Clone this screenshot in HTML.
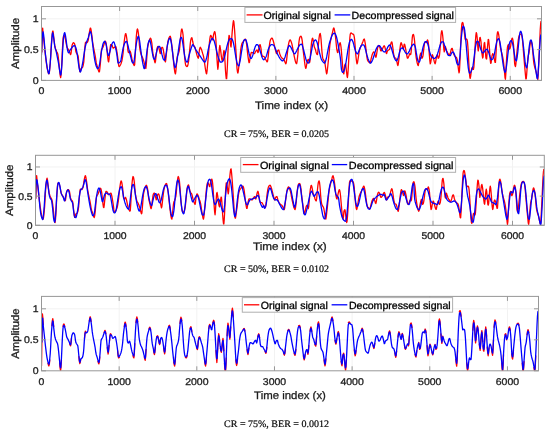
<!DOCTYPE html>
<html><head><meta charset="utf-8"><title>Signal compression results</title>
<style>html,body{margin:0;padding:0;background:#fff;}body{width:550px;height:432px;overflow:hidden;}svg{display:block;}</style>
</head><body>
<svg width="550" height="432" viewBox="0 0 550 432">
<style>text{paint-order:fill;text-rendering:geometricPrecision}</style>
<rect width="550" height="432" fill="#fff"/>
<defs><clipPath id="c0"><rect x="41.5" y="6.5" width="500" height="73.9"/></clipPath></defs>
<path d="M119.62 6.5V80.4M197.75 6.5V80.4M275.88 6.5V80.4M354 6.5V80.4M432.12 6.5V80.4M510.25 6.5V80.4M41.5 49.61H541.5M41.5 18.82H541.5" stroke="#f2f2f2" stroke-width="1" fill="none"/>
<g clip-path="url(#c0)" fill="none" stroke-width="1.3" stroke-linejoin="round" stroke-linecap="round">
<path d="M41.85 51.87 L42.25 29.82 L42.65 28.14 L43.05 32.84 L43.45 37.22 L43.85 40.63 L44.25 44.17 L44.65 47.99 L45.05 51.84 L45.45 55.43 L45.85 58.66 L46.25 61.83 L46.65 64.8 L47.05 67.38 L47.45 69.39 L47.85 71.1 L48.25 72.65 L48.65 73.69 L49.05 73.8 L49.45 71.72 L49.85 67.97 L50.25 63.65 L50.65 57.48 L51.05 49.65 L51.45 42.84 L51.85 38.12 L52.25 33.81 L52.65 31.09 L53.05 31.23 L53.45 34.24 L53.85 38.09 L54.25 41.46 L54.65 44.87 L55.05 47.04 L55.45 48.48 L55.85 49.62 L56.25 50.62 L56.65 51.53 L57.05 52.22 L57.45 53.03 L57.85 54.41 L58.25 57.13 L58.65 60.42 L59.05 64.35 L59.45 68.46 L59.85 72.19 L60.25 75.85 L60.65 77.62 L61.05 75.26 L61.45 69.74 L61.85 62.48 L62.25 52.79 L62.65 45.25 L63.05 38.97 L63.45 36.47 L63.85 35.43 L64.25 35.49 L64.65 36.44 L65.05 37.78 L65.45 39.39 L65.85 41.52 L66.25 43.63 L66.65 45.88 L67.05 47.38 L67.45 48.05 L67.85 48.6 L68.25 49.34 L68.65 50.18 L69.05 51.06 L69.45 51.93 L69.85 52.97 L70.25 54.02 L70.65 54.61 L71.05 53.39 L71.45 49.81 L71.85 46.31 L72.25 44.79 L72.65 43.77 L73.05 43.02 L73.45 42.68 L73.85 42.82 L74.25 43.33 L74.65 44.11 L75.05 45.51 L75.45 48.66 L75.85 51.5 L76.25 52.62 L76.65 53.33 L77.05 53.99 L77.45 54.51 L77.85 55.19 L78.25 56.98 L78.65 60.99 L79.05 65.16 L79.45 68.67 L79.85 71.64 L80.25 71.8 L80.65 70.2 L81.05 68.63 L81.45 68.16 L81.85 67.95 L82.25 67.71 L82.65 67.18 L83.05 65.91 L83.45 63.95 L83.85 61.31 L84.25 55.63 L84.65 49.63 L85.05 45.56 L85.45 42.53 L85.85 42.16 L86.25 42.37 L86.65 42.6 L87.05 42.64 L87.45 42.19 L87.85 41.34 L88.25 40.08 L88.65 37.5 L89.05 34.46 L89.45 32.08 L89.85 29.9 L90.25 28.26 L90.65 28.18 L91.05 29.95 L91.45 32.55 L91.85 35.34 L92.25 38.89 L92.65 42.25 L93.05 44.81 L93.45 47.06 L93.85 49.16 L94.25 51.22 L94.65 53.1 L95.05 55.03 L95.45 57.27 L95.85 60.16 L96.25 62.9 L96.65 64.59 L97.05 65.72 L97.45 66.83 L97.85 68.28 L98.25 69.84 L98.65 71.19 L99.05 72 L99.45 71.59 L99.85 68.72 L100.25 64.77 L100.65 60.07 L101.05 54 L101.45 50.09 L101.85 49.03 L102.25 48.39 L102.65 47.84 L103.05 47.05 L103.45 45.94 L103.85 44.73 L104.25 43.62 L104.65 42.52 L105.05 41.53 L105.45 41.22 L105.85 42.18 L106.25 44.07 L106.65 46.52 L107.05 50.75 L107.45 54.8 L107.85 58.27 L108.25 61.16 L108.65 61.83 L109.05 59.04 L109.45 54.76 L109.85 51.17 L110.25 47.32 L110.65 44.72 L111.05 44.56 L111.45 44.8 L111.85 45.17 L112.25 45.72 L112.65 46.98 L113.05 48.07 L113.45 48.13 L113.85 47.86 L114.25 47.49 L114.65 47.15 L115.05 46.72 L115.45 46.39 L115.85 46.65 L116.25 48.27 L116.65 50.46 L117.05 52.69 L117.45 55.39 L117.85 58.22 L118.25 61.76 L118.65 65.33 L119.05 66.58 L119.45 66.39 L119.85 65.94 L120.25 65.28 L120.65 64.44 L121.05 63.46 L121.45 62.37 L121.85 61.04 L122.25 58.95 L122.65 56.34 L123.05 53.35 L123.45 49.24 L123.85 44.84 L124.25 41.36 L124.65 38.34 L125.05 35.6 L125.45 33.81 L125.85 33.63 L126.25 35.1 L126.65 37.56 L127.05 40.37 L127.45 45.16 L127.85 50.24 L128.25 52.15 L128.65 52.7 L129.05 52.64 L129.45 51.77 L129.85 51.01 L130.25 51.33 L130.65 52.72 L131.05 54.3 L131.45 56.31 L131.85 58.48 L132.25 60.31 L132.65 61.82 L133.05 63.12 L133.45 64.1 L133.85 64.98 L134.25 65.58 L134.65 64.64 L135.05 58.62 L135.45 50.93 L135.85 44.16 L136.25 37.29 L136.65 33.03 L137.05 30.05 L137.45 28.88 L137.85 29.98 L138.25 32.36 L138.65 35.28 L139.05 40.12 L139.45 45.33 L139.85 48.56 L140.25 50.92 L140.65 52.84 L141.05 54.32 L141.45 55.39 L141.85 56.18 L142.25 56.93 L142.65 57.87 L143.05 58.92 L143.45 60.08 L143.85 61.39 L144.25 63.06 L144.65 64.81 L145.05 66.31 L145.45 67.81 L145.85 68.38 L146.25 64.99 L146.65 59.38 L147.05 54.31 L147.45 49.2 L147.85 46.19 L148.25 44.27 L148.65 42.79 L149.05 41.51 L149.45 40.17 L149.85 38.97 L150.25 38.2 L150.65 38.2 L151.05 39.25 L151.45 41.01 L151.85 43.19 L152.25 47.29 L152.65 51.5 L153.05 53.96 L153.45 55.89 L153.85 57.63 L154.25 59.54 L154.65 61.65 L155.05 62.87 L155.45 61.66 L155.85 58.1 L156.25 54.56 L156.65 51.4 L157.05 48.48 L157.45 47.12 L157.85 46.59 L158.25 46.35 L158.65 46.97 L159.05 48.55 L159.45 50.19 L159.85 52.17 L160.25 53.64 L160.65 52.76 L161.05 50.11 L161.45 48.2 L161.85 47.62 L162.25 47.3 L162.65 47.57 L163.05 48.89 L163.45 50.69 L163.85 53.09 L164.25 56.16 L164.65 58.72 L165.05 61.15 L165.45 61.89 L165.85 59.31 L166.25 55.06 L166.65 51.39 L167.05 47.79 L167.45 44.56 L167.85 42.24 L168.25 40.29 L168.65 38.76 L169.05 37.77 L169.45 36.99 L169.85 36.43 L170.25 36.24 L170.65 37.46 L171.05 39.91 L171.45 42.53 L171.85 45.62 L172.25 49.16 L172.65 52.84 L173.05 56.91 L173.45 60.91 L173.85 64.61 L174.25 68.21 L174.65 71.01 L175.05 73 L175.45 73.93 L175.85 71.37 L176.25 66.79 L176.65 62.52 L177.05 58.11 L177.45 55.91 L177.85 54.96 L178.25 54.14 L178.65 52.95 L179.05 51.5 L179.45 49.57 L179.85 46.08 L180.25 40.77 L180.65 36.2 L181.05 32.66 L181.45 29.76 L181.85 28.91 L182.25 29.97 L182.65 32.04 L183.05 34.89 L183.45 40.15 L183.85 45.93 L184.25 51.93 L184.65 57.36 L185.05 61.03 L185.45 64.05 L185.85 65.65 L186.25 66.11 L186.65 66.42 L187.05 66.57 L187.45 66.28 L187.85 65.01 L188.25 63.13 L188.65 60.79 L189.05 56.83 L189.45 52.34 L189.85 48.25 L190.25 43.93 L190.65 40.61 L191.05 39.09 L191.45 38.07 L191.85 37.71 L192.25 39.03 L192.65 41.26 L193.05 43.06 L193.45 44.74 L193.85 45.74 L194.25 46.26 L194.65 46.7 L195.05 47.41 L195.45 48.87 L195.85 50.76 L196.25 52.41 L196.65 53.96 L197.05 55.4 L197.45 56.56 L197.85 57.61 L198.25 58.27 L198.65 56.8 L199.05 52.72 L199.45 50 L199.85 48.03 L200.25 47.27 L200.65 47.67 L201.05 48.48 L201.45 49.41 L201.85 50.67 L202.25 52.12 L202.65 53.43 L203.05 54.62 L203.45 56 L203.85 58.02 L204.25 60.78 L204.65 63.63 L205.05 66.43 L205.45 69.22 L205.85 71.44 L206.25 73.33 L206.65 73.77 L207.05 70.85 L207.45 66.16 L207.85 61.82 L208.25 57.23 L208.65 52.45 L209.05 47.47 L209.45 42.33 L209.85 38.92 L210.25 36.4 L210.65 35.31 L211.05 35.67 L211.45 36.46 L211.85 37.39 L212.25 38.88 L212.65 39.9 L213.05 38.38 L213.45 35.29 L213.85 33.58 L214.25 32.33 L214.65 31.66 L215.05 32.46 L215.45 35.24 L215.85 39.28 L216.25 46.25 L216.65 52.99 L217.05 59.67 L217.45 65.13 L217.85 69.25 L218.25 66.4 L218.65 59.35 L219.05 53.39 L219.45 47.51 L219.85 45.5 L220.25 47.51 L220.65 50.59 L221.05 53.79 L221.45 57.18 L221.85 59.42 L222.25 60.94 L222.65 60.1 L223.05 56.72 L223.45 53.59 L223.85 50.61 L224.25 50.93 L224.65 56.15 L225.05 62.52 L225.45 69.89 L225.85 74.9 L226.25 78.72 L226.65 78.69 L227.05 72.74 L227.45 64.83 L227.85 54.38 L228.25 45.58 L228.65 38.84 L229.05 35.34 L229.45 36.35 L229.85 38.84 L230.25 41.87 L230.65 45.89 L231.05 47.02 L231.45 42.61 L231.85 36.59 L232.25 31.36 L232.65 26.8 L233.05 23.11 L233.45 20.73 L233.85 21.84 L234.25 26.06 L234.65 30.91 L235.05 37.04 L235.45 43.28 L235.85 49.63 L236.25 56.04 L236.65 63.32 L237.05 68.97 L237.45 71.77 L237.85 73.02 L238.25 71.47 L238.65 68.2 L239.05 65 L239.45 61.97 L239.85 58.66 L240.25 54.63 L240.65 50.46 L241.05 47.64 L241.45 45.42 L241.85 43.83 L242.25 42.94 L242.65 42.32 L243.05 41.76 L243.45 41.15 L243.85 40.57 L244.25 40.04 L244.65 39.54 L245.05 39.09 L245.45 39.1 L245.85 40.14 L246.25 41.89 L246.65 44.29 L247.05 48.17 L247.45 51.86 L247.85 55.24 L248.25 58.16 L248.65 60.76 L249.05 62.69 L249.45 62.3 L249.85 59.65 L250.25 56.83 L250.65 54.9 L251.05 53.16 L251.45 52.42 L251.85 52.46 L252.25 52.55 L252.65 52.68 L253.05 52.84 L253.45 53.18 L253.85 53.54 L254.25 53.71 L254.65 53.36 L255.05 52.59 L255.45 51.75 L255.85 51.16 L256.25 50.63 L256.65 50.2 L257.05 50.03 L257.45 51.2 L257.85 52.68 L258.25 52.08 L258.65 49.68 L259.05 47.38 L259.45 45.81 L259.85 44.64 L260.25 44.86 L260.65 46.57 L261.05 48.95 L261.45 53.05 L261.85 55.08 L262.25 55.96 L262.65 56.42 L263.05 56.47 L263.45 56.47 L263.85 56.47 L264.25 56.73 L264.65 57.51 L265.05 58.32 L265.45 59.03 L265.85 59.75 L266.25 60.45 L266.65 61.17 L267.05 61.85 L267.45 61.68 L267.85 59.29 L268.25 56.14 L268.65 52.12 L269.05 47.98 L269.45 45.02 L269.85 42.39 L270.25 40.46 L270.65 39.5 L271.05 38.81 L271.45 38.31 L271.85 38.08 L272.25 38.32 L272.65 39.15 L273.05 40.29 L273.45 41.52 L273.85 43.18 L274.25 44.98 L274.65 46.7 L275.05 48.49 L275.45 50.17 L275.85 51.66 L276.25 53.14 L276.65 53.68 L277.05 52.51 L277.45 51.08 L277.85 50.54 L278.25 50.17 L278.65 50.03 L279.05 50.88 L279.45 52.56 L279.85 53.96 L280.25 55.05 L280.65 56.01 L281.05 56.77 L281.45 57.41 L281.85 57.95 L282.25 58.37 L282.65 58.65 L283.05 58.88 L283.45 59.19 L283.85 59.7 L284.25 60.4 L284.65 61.16 L285.05 62.17 L285.45 63.24 L285.85 63.81 L286.25 62.75 L286.65 59.65 L287.05 55.95 L287.45 52.64 L287.85 49.01 L288.25 45.89 L288.65 43.73 L289.05 41.96 L289.45 40.82 L289.85 40.16 L290.25 39.92 L290.65 40.4 L291.05 41.38 L291.45 42.54 L291.85 43.85 L292.25 45.52 L292.65 47.54 L293.05 50.03 L293.45 52.35 L293.85 54.38 L294.25 56.28 L294.65 58.17 L295.05 60.02 L295.45 61.56 L295.85 62.68 L296.25 63.59 L296.65 63.67 L297.05 61.58 L297.45 58.16 L297.85 54.4 L298.25 49.31 L298.65 44.56 L299.05 41.39 L299.45 38.73 L299.85 37.2 L300.25 36.68 L300.65 36.34 L301.05 36.24 L301.45 37.01 L301.85 38.61 L302.25 40.78 L302.65 44.83 L303.05 49.14 L303.45 52.57 L303.85 55.79 L304.25 59.01 L304.65 62.51 L305.05 65.42 L305.45 67.42 L305.85 68.42 L306.25 66.98 L306.65 64.45 L307.05 62.55 L307.45 60.84 L307.85 59.88 L308.25 59.32 L308.65 59.54 L309.05 61.27 L309.45 62.79 L309.85 61.69 L310.25 57.44 L310.65 52.92 L311.05 47.62 L311.45 43.45 L311.85 40.69 L312.25 38.63 L312.65 38.15 L313.05 39.53 L313.45 41.61 L313.85 44.05 L314.25 46.61 L314.65 47.84 L315.05 48.5 L315.45 49.44 L315.85 51.17 L316.25 52.73 L316.65 53.66 L317.05 54.39 L317.45 54.57 L317.85 51.62 L318.25 46.53 L318.65 42.21 L319.05 38.08 L319.45 35.28 L319.85 33.94 L320.25 33.52 L320.65 35.56 L321.05 39.25 L321.45 44.65 L321.85 50.8 L322.25 54.78 L322.65 57.7 L323.05 58.97 L323.45 59.67 L323.85 60.37 L324.25 61.05 L324.65 61.96 L325.05 63.92 L325.45 66.63 L325.85 69.28 L326.25 72.24 L326.65 73.91 L327.05 72.7 L327.45 69.23 L327.85 65.45 L328.25 61.7 L328.65 57.6 L329.05 53.54 L329.45 49.21 L329.85 45.22 L330.25 42.41 L330.65 40.31 L331.05 38.52 L331.45 36.77 L331.85 35.06 L332.25 33.45 L332.65 31.86 L333.05 30.01 L333.45 28.47 L333.85 27.98 L334.25 29.06 L334.65 31.12 L335.05 33.43 L335.45 36.52 L335.85 40.03 L336.25 44.29 L336.65 48.31 L337.05 50.69 L337.45 52.41 L337.85 52.59 L338.25 50.66 L338.65 48.1 L339.05 46.23 L339.45 44.38 L339.85 43 L340.25 42.8 L340.65 44.53 L341.05 47.25 L341.45 51.38 L341.85 56.68 L342.25 61.57 L342.65 66.67 L343.05 70.72 L343.45 72.9 L343.85 73.94 L344.25 69.64 L344.65 65.47 L345.05 64.36 L345.45 63.84 L345.85 65.35 L346.25 69.35 L346.65 72.8 L347.05 76.27 L347.45 77.54 L347.85 74.23 L348.25 68.48 L348.65 61.58 L349.05 52.98 L349.45 45.3 L349.85 37.72 L350.25 34.2 L350.65 33.32 L351.05 32.93 L351.45 33.07 L351.85 33.5 L352.25 33.92 L352.65 34.11 L353.05 34.2 L353.45 34.34 L353.85 35.03 L354.25 36.81 L354.65 39.69 L355.05 45.13 L355.45 50.3 L355.85 55.39 L356.25 59.17 L356.65 62.26 L357.05 63.82 L357.45 62.85 L357.85 60.47 L358.25 57.97 L358.65 55.2 L359.05 52.37 L359.45 50.36 L359.85 48.92 L360.25 47.74 L360.65 46.73 L361.05 45.9 L361.45 45.11 L361.85 44.23 L362.25 43.24 L362.65 42.22 L363.05 41.25 L363.45 40.14 L363.85 39.25 L364.25 39.05 L364.65 40.23 L365.05 42.34 L365.45 44.73 L365.85 48.11 L366.25 51.69 L366.65 54.81 L367.05 57.89 L367.45 59.99 L367.85 60.84 L368.25 61.41 L368.65 61.83 L369.05 62.21 L369.45 62.59 L369.85 62.85 L370.25 62.77 L370.65 61.26 L371.05 59.12 L371.45 57.46 L371.85 55.85 L372.25 54.44 L372.65 53.48 L373.05 52.7 L373.45 52.1 L373.85 51.87 L374.25 52.45 L374.65 53.67 L375.05 54.9 L375.45 56.41 L375.85 57.37 L376.25 56.32 L376.65 53.82 L377.05 51.39 L377.45 48.7 L377.85 46.99 L378.25 45.94 L378.65 45.43 L379.05 45.71 L379.45 46.47 L379.85 47.38 L380.25 48.91 L380.65 50.51 L381.05 50.93 L381.45 50.69 L381.85 50.26 L382.25 49.65 L382.65 48.56 L383.05 47.48 L383.45 46.74 L383.85 46.1 L384.25 45.8 L384.65 46.38 L385.05 47.8 L385.45 49.32 L385.85 51.34 L386.25 53.23 L386.65 53.56 L387.05 52.17 L387.45 50.94 L387.85 50.53 L388.25 50.25 L388.65 49.96 L389.05 49.7 L389.45 49.38 L389.85 48.62 L390.25 46.36 L390.65 44.37 L391.05 43.02 L391.45 42 L391.85 41.88 L392.25 43.69 L392.65 46.3 L393.05 49.45 L393.45 52.83 L393.85 55.05 L394.25 56.76 L394.65 57.53 L395.05 57.8 L395.45 57.99 L395.85 58.34 L396.25 59.33 L396.65 60.85 L397.05 62.42 L397.45 64.44 L397.85 65.66 L398.25 64.4 L398.65 61.27 L399.05 57.83 L399.45 53.73 L399.85 49.69 L400.25 46.59 L400.65 43.84 L401.05 42.67 L401.45 43.24 L401.85 44.45 L402.25 45.71 L402.65 47.37 L403.05 48.82 L403.45 48.78 L403.85 46.44 L404.25 44.2 L404.65 44.31 L405.05 45.88 L405.45 47.89 L405.85 50.01 L406.25 52.51 L406.65 54.71 L407.05 56.78 L407.45 58.21 L407.85 58.11 L408.25 57.4 L408.65 56.53 L409.05 55.43 L409.45 54.2 L409.85 53.71 L410.25 54.15 L410.65 54.61 L411.05 52.86 L411.45 47.94 L411.85 43.18 L412.25 37.89 L412.65 35.19 L413.05 34.55 L413.45 34.48 L413.85 35.91 L414.25 38.45 L414.65 41.7 L415.05 46.9 L415.45 51.53 L415.85 54.99 L416.25 57.87 L416.65 60.25 L417.05 62.3 L417.45 63.87 L417.85 65.16 L418.25 65.6 L418.65 63.52 L419.05 60.52 L419.45 58.29 L419.85 56.19 L420.25 54.57 L420.65 53.28 L421.05 52.88 L421.45 55.61 L421.85 58.24 L422.25 57.99 L422.65 57.04 L423.05 55.38 L423.45 51.92 L423.85 48.5 L424.25 45.13 L424.65 42.79 L425.05 42.15 L425.45 41.79 L425.85 41.88 L426.25 42.42 L426.65 42.61 L427.05 41.21 L427.45 39.93 L427.85 40.6 L428.25 42.54 L428.65 45.49 L429.05 50.69 L429.45 55.66 L429.85 60.77 L430.25 63.79 L430.65 62.83 L431.05 60.37 L431.45 58.12 L431.85 56.08 L432.25 54.69 L432.65 55.1 L433.05 56.55 L433.45 58.05 L433.85 59.82 L434.25 61.51 L434.65 62.83 L435.05 63.78 L435.45 63.01 L435.85 60.59 L436.25 58.32 L436.65 56.59 L437.05 55.1 L437.45 54.7 L437.85 56.54 L438.25 58.27 L438.65 57.99 L439.05 57.04 L439.45 55.33 L439.85 51.47 L440.25 46.64 L440.65 41.05 L441.05 34.73 L441.45 31.75 L441.85 30.71 L442.25 32.14 L442.65 35.21 L443.05 39.31 L443.45 44.67 L443.85 49.15 L444.25 51.86 L444.65 49.81 L445.05 46.71 L445.45 46.7 L445.85 48.11 L446.25 49.48 L446.65 50.76 L447.05 51.85 L447.45 52.59 L447.85 53.2 L448.25 53.83 L448.65 54.68 L449.05 55.39 L449.45 55.46 L449.85 54.6 L450.25 53.31 L450.65 51.87 L451.05 50.04 L451.45 48.91 L451.85 48.32 L452.25 48.4 L452.65 50.13 L453.05 51.97 L453.45 53.28 L453.85 54.39 L454.25 55.23 L454.65 55.93 L455.05 56.45 L455.45 56.75 L455.85 56.96 L456.25 57.25 L456.65 57.88 L457.05 59.12 L457.45 60.94 L457.85 64.26 L458.25 67.59 L458.65 70.66 L459.05 72.86 L459.45 70.93 L459.85 63.46 L460.25 55.13 L460.65 44.89 L461.05 35.91 L461.45 28.79 L461.85 23.86 L462.25 22.81 L462.65 22.44 L463.05 23.36 L463.45 25.81 L463.85 28.47 L464.25 31.76 L464.65 35.04 L465.05 38.76 L465.45 39.86 L465.85 39.35 L466.25 38.99 L466.65 39.17 L467.05 39.68 L467.45 41.53 L467.85 46.31 L468.25 52.4 L468.65 59.79 L469.05 67.36 L469.45 73.38 L469.85 77.24 L470.25 78.44 L470.65 76.29 L471.05 73.28 L471.45 70.4 L471.85 67.85 L472.25 67.78 L472.65 68.88 L473.05 69.34 L473.45 69.34 L473.85 67.17 L474.25 61.3 L474.65 54.94 L475.05 47.13 L475.45 40.8 L475.85 35.59 L476.25 32.61 L476.65 33.58 L477.05 36.48 L477.45 40.78 L477.85 48.01 L478.25 50.84 L478.65 48 L479.05 44.01 L479.45 40.57 L479.85 37.59 L480.25 37.51 L480.65 39.56 L481.05 42.43 L481.45 47.41 L481.85 52.38 L482.25 55.63 L482.65 57.99 L483.05 57.08 L483.45 51.33 L483.85 46.47 L484.25 43.02 L484.65 42.56 L485.05 46.71 L485.45 51.75 L485.85 57.36 L486.25 58.91 L486.65 58.97 L487.05 53.98 L487.45 47.68 L487.85 43.05 L488.25 39.44 L488.65 39.79 L489.05 43.7 L489.45 48.54 L489.85 55.03 L490.25 59.88 L490.65 63.29 L491.05 63.17 L491.45 59.85 L491.85 56.98 L492.25 54.9 L492.65 53.73 L493.05 54.05 L493.45 55.02 L493.85 56.37 L494.25 58.53 L494.65 60.52 L495.05 62.37 L495.45 62.36 L495.85 56.5 L496.25 49 L496.65 41.36 L497.05 35.67 L497.45 32.52 L497.85 31.7 L498.25 32.69 L498.65 34.33 L499.05 37.01 L499.45 40.58 L499.85 43.66 L500.25 46.55 L500.65 48.77 L501.05 50.36 L501.45 51.83 L501.85 53.34 L502.25 54.92 L502.65 56.8 L503.05 58.97 L503.45 61.56 L503.85 65.05 L504.25 69.29 L504.65 73.43 L505.05 77.86 L505.45 79.26 L505.85 73.57 L506.25 64.56 L506.65 57.75 L507.05 51.68 L507.45 47.21 L507.85 45.6 L508.25 44.72 L508.65 44.69 L509.05 47.14 L509.45 49.1 L509.85 48.72 L510.25 47.73 L510.65 45.93 L511.05 42.64 L511.45 40.34 L511.85 38.8 L512.25 38.07 L512.65 38.87 L513.05 40.87 L513.45 44.07 L513.85 49.61 L514.25 56.8 L514.65 63.55 L515.05 65.73 L515.45 66.58 L515.85 64.32 L516.25 59.78 L516.65 55.5 L517.05 51.42 L517.45 47.4 L517.85 43.85 L518.25 40.44 L518.65 37.75 L519.05 36.22 L519.45 35.07 L519.85 34.43 L520.25 34.21 L520.65 34.07 L521.05 34.03 L521.45 34.59 L521.85 35.91 L522.25 37.8 L522.65 41.81 L523.05 46.39 L523.45 51.35 L523.85 56.45 L524.25 61.28 L524.65 66.05 L525.05 70.47 L525.45 74.94 L525.85 78.81 L526.25 78.79 L526.65 74.52 L527.05 68.95 L527.45 63.91 L527.85 58.67 L528.25 55.7 L528.65 54.29 L529.05 52.69 L529.45 49.63 L529.85 46.2 L530.25 43.56 L530.65 41.33 L531.05 40.94 L531.45 42.02 L531.85 43.69 L532.25 46.31 L532.65 49.92 L533.05 54.38 L533.45 59.67 L533.85 63.04 L534.25 65.18 L534.65 66.88 L535.05 68.37 L535.45 69.59 L535.85 70.89 L536.25 72.67 L536.65 74.79 L537.05 76.73 L537.45 78.62 L537.85 79.33 L538.25 73.93 L538.65 65.21 L539.05 57.06 L539.45 48.1 L539.85 38.87 L540.25 29.47 L540.65 23.93 L540.96 21.52" stroke="#ff0000"/>
<path d="M41.48 54.78 L41.88 45.04 L42.28 38.22 L42.68 33.12 L43.08 31.78 L43.48 33.9 L43.88 37.13 L44.28 41.3 L44.68 46.47 L45.08 50.95 L45.48 54.68 L45.88 58.08 L46.28 61.15 L46.68 64.05 L47.08 66.78 L47.48 69.14 L47.88 70.94 L48.28 72.55 L48.68 73.67 L49.08 73.47 L49.48 70.71 L49.88 66.47 L50.28 62.04 L50.68 56.5 L51.08 50.25 L51.48 44.59 L51.88 39.02 L52.28 34.09 L52.68 32.62 L53.08 34.11 L53.48 36.68 L53.88 39.31 L54.28 42.59 L54.68 45.67 L55.08 47.66 L55.48 49.12 L55.88 50.43 L56.28 51.94 L56.68 53.81 L57.08 55.88 L57.48 57.92 L57.88 59.84 L58.28 61.82 L58.68 64.12 L59.08 66.95 L59.48 69.69 L59.88 71.9 L60.28 74 L60.68 75.13 L61.08 73.75 L61.48 69.62 L61.88 64.59 L62.28 57.63 L62.68 49.86 L63.08 43.6 L63.48 38.18 L63.88 35.19 L64.28 33.23 L64.68 32.57 L65.08 33.65 L65.48 35.73 L65.88 38.02 L66.28 41.05 L66.68 44.3 L67.08 47.11 L67.48 49.75 L67.88 51.38 L68.28 52.44 L68.68 52.92 L69.08 52.48 L69.48 51.42 L69.88 50.37 L70.28 49.73 L70.68 49.23 L71.08 48.77 L71.48 48.3 L71.88 47.76 L72.28 47.21 L72.68 46.72 L73.08 46.34 L73.48 46 L73.88 45.71 L74.28 45.54 L74.68 45.61 L75.08 46.08 L75.48 46.82 L75.88 47.72 L76.28 49.14 L76.68 51.02 L77.08 53.18 L77.48 55.99 L77.88 59.23 L78.28 62.22 L78.68 65.21 L79.08 67.81 L79.48 69.6 L79.88 71.13 L80.28 71.97 L80.68 71.61 L81.08 70.26 L81.48 68.52 L81.88 66.84 L82.28 64.96 L82.68 62.84 L83.08 60.55 L83.48 57.88 L83.88 55.1 L84.28 52.56 L84.68 50.1 L85.08 47.84 L85.48 45.97 L85.88 44.39 L86.28 43.01 L86.68 41.77 L87.08 40.72 L87.48 39.79 L87.88 38.84 L88.28 37.69 L88.68 36.19 L89.08 34.63 L89.48 33.39 L89.88 32.33 L90.28 31.66 L90.68 32.05 L91.08 33.48 L91.48 35.33 L91.88 37.82 L92.28 41.09 L92.68 44.38 L93.08 47.8 L93.48 51.21 L93.88 54.22 L94.28 57.03 L94.68 59.56 L95.08 61.65 L95.48 63.47 L95.88 65.07 L96.28 66.34 L96.68 67.23 L97.08 67.99 L97.48 68.53 L97.88 68.65 L98.28 68.25 L98.68 67.46 L99.08 66.4 L99.48 64.99 L99.88 62.48 L100.28 59.48 L100.68 56.73 L101.08 54 L101.48 51.34 L101.88 49.07 L102.28 47.05 L102.68 45.2 L103.08 43.73 L103.48 42.83 L103.88 42.12 L104.28 41.57 L104.68 41.28 L105.08 41.47 L105.48 42.4 L105.88 43.76 L106.28 45.34 L106.68 47.81 L107.08 50.37 L107.48 52.3 L107.88 54.16 L108.28 55.45 L108.68 55.6 L109.08 54.69 L109.48 53.24 L109.88 51.76 L110.28 50.04 L110.68 48.15 L111.08 46.54 L111.48 45.29 L111.88 44.15 L112.28 43.24 L112.68 42.63 L113.08 42.17 L113.48 41.87 L113.88 41.93 L114.28 42.84 L114.68 44.16 L115.08 45.51 L115.48 47.15 L115.88 49.01 L116.28 51.11 L116.68 53.49 L117.08 55.99 L117.48 59.31 L117.88 62.34 L118.28 63.1 L118.68 63.01 L119.08 62.81 L119.48 62.5 L119.88 62.11 L120.28 61.63 L120.68 61.01 L121.08 59.41 L121.48 57.1 L121.88 54.68 L122.28 52.57 L122.68 50.36 L123.08 48.26 L123.48 46.57 L123.88 45.29 L124.28 44.16 L124.68 43.22 L125.08 42.51 L125.48 42 L125.88 41.57 L126.28 41.3 L126.68 41.39 L127.08 42.29 L127.48 43.7 L127.88 45.23 L128.28 46.75 L128.68 48.55 L129.08 50.42 L129.48 52.15 L129.88 53.71 L130.28 55.2 L130.68 56.66 L131.08 58.16 L131.48 59.88 L131.88 61.41 L132.28 62.26 L132.68 62.68 L133.08 62.98 L133.48 63.11 L133.88 62.19 L134.28 59.69 L134.68 56.65 L135.08 53.64 L135.48 50.07 L135.88 46.76 L136.28 44.05 L136.68 41.57 L137.08 39.57 L137.48 38.13 L137.88 36.89 L138.28 36.27 L138.68 36.78 L139.08 38.28 L139.48 40.14 L139.88 42.8 L140.28 46.12 L140.68 49.22 L141.08 52.19 L141.48 55.07 L141.88 57.74 L142.28 60.28 L142.68 62.66 L143.08 64.68 L143.48 66.45 L143.88 68.03 L144.28 68.66 L144.68 67.81 L145.08 65.89 L145.48 63.54 L145.88 60.76 L146.28 57.05 L146.68 53.35 L147.08 50.31 L147.48 47.38 L147.88 44.79 L148.28 42.91 L148.68 41.66 L149.08 40.61 L149.48 40.02 L149.88 40.26 L150.28 41.63 L150.68 43.41 L151.08 45.36 L151.48 47.76 L151.88 50.21 L152.28 52.44 L152.68 54.76 L153.08 56.72 L153.48 57.92 L153.88 58.81 L154.28 59.35 L154.68 59.2 L155.08 58.15 L155.48 56.66 L155.88 55.19 L156.28 53.44 L156.68 51.59 L157.08 49.99 L157.48 48.47 L157.88 47.21 L158.28 46.75 L158.68 46.58 L159.08 46.48 L159.48 46.45 L159.88 46.9 L160.28 47.88 L160.68 49.05 L161.08 50.46 L161.48 52.32 L161.88 54.17 L162.28 55.69 L162.68 57.19 L163.08 58.49 L163.48 59.36 L163.88 59.85 L164.28 60.21 L164.68 60.32 L165.08 59.31 L165.48 57.28 L165.88 55.01 L166.28 52.65 L166.68 49.87 L167.08 47.23 L167.48 45.08 L167.88 43.02 L168.28 41.25 L168.68 40.01 L169.08 39.18 L169.48 38.5 L169.88 38.13 L170.28 38.46 L170.68 39.85 L171.08 41.68 L171.48 43.94 L171.88 46.92 L172.28 50.11 L172.68 53.24 L173.08 56.61 L173.48 59.77 L173.88 62.4 L174.28 65.06 L174.68 67.12 L175.08 67.72 L175.48 67.03 L175.88 65.66 L176.28 63.96 L176.68 62.18 L177.08 59.87 L177.48 57.17 L177.88 54.4 L178.28 51.59 L178.68 48.56 L179.08 45.71 L179.48 43.25 L179.88 40.85 L180.28 38.91 L180.68 37.88 L181.08 37.29 L181.48 37.35 L181.88 38.54 L182.28 40.32 L182.68 42.38 L183.08 45.17 L183.48 48.05 L183.88 50.79 L184.28 53.56 L184.68 55.97 L185.08 57.85 L185.48 59.54 L185.88 60.82 L186.28 61.48 L186.68 61.92 L187.08 62.17 L187.48 61.85 L187.88 60.39 L188.28 58.52 L188.68 56.98 L189.08 55.52 L189.48 54.03 L189.88 52.54 L190.28 51.1 L190.68 49.74 L191.08 48.48 L191.48 47.37 L191.88 46.25 L192.28 45.2 L192.68 44.62 L193.08 44.76 L193.48 45.35 L193.88 46.11 L194.28 46.8 L194.68 47.56 L195.08 48.35 L195.48 49.1 L195.88 49.75 L196.28 50.36 L196.68 50.94 L197.08 51.52 L197.48 52.11 L197.88 52.71 L198.28 53.31 L198.68 53.91 L199.08 54.51 L199.48 55.11 L199.88 55.71 L200.28 56.31 L200.68 56.91 L201.08 57.51 L201.48 58.13 L201.88 58.77 L202.28 59.39 L202.68 59.97 L203.08 60.48 L203.48 61.01 L203.88 61.53 L204.28 61.94 L204.68 62.17 L205.08 62.03 L205.48 61.33 L205.88 60.22 L206.28 58.88 L206.68 57.51 L207.08 55.83 L207.48 53.73 L207.88 51.48 L208.28 49.37 L208.68 47.63 L209.08 46.02 L209.48 44.52 L209.88 43.17 L210.28 42.03 L210.68 41.05 L211.08 40.08 L211.48 39.23 L211.88 38.66 L212.28 38.48 L212.68 38.67 L213.08 39.08 L213.48 39.63 L213.88 40.29 L214.28 41.35 L214.68 42.72 L215.08 44.21 L215.48 45.77 L215.88 47.59 L216.28 49.49 L216.68 51.3 L217.08 52.9 L217.48 54.45 L217.88 55.93 L218.28 57.28 L218.68 58.42 L219.08 59.49 L219.48 60.56 L219.88 61.47 L220.28 62.05 L220.68 62.18 L221.08 62.13 L221.48 62.03 L221.88 61.88 L222.28 61.69 L222.68 61.38 L223.08 60.7 L223.48 59.75 L223.88 58.64 L224.28 57.49 L224.68 56.16 L225.08 54.56 L225.48 52.83 L225.88 51.1 L226.28 49.45 L226.68 47.7 L227.08 45.94 L227.48 44.32 L227.88 42.97 L228.28 41.88 L228.68 40.85 L229.08 39.95 L229.48 39.3 L229.88 39.01 L230.28 38.88 L230.68 38.78 L231.08 38.71 L231.48 38.67 L231.88 38.77 L232.28 39.39 L232.68 40.42 L233.08 41.61 L233.48 43.08 L233.88 45.11 L234.28 47.38 L234.68 49.69 L235.08 52.3 L235.48 54.95 L235.88 57.32 L236.28 59.42 L236.68 61.43 L237.08 63.1 L237.48 64.19 L237.88 65.01 L238.28 65.62 L238.68 65.89 L239.08 65.29 L239.48 63.73 L239.88 61.81 L240.28 59.81 L240.68 57.29 L241.08 54.57 L241.48 52 L241.88 49.54 L242.28 47.08 L242.68 44.89 L243.08 43.22 L243.48 41.73 L243.88 40.53 L244.28 39.95 L244.68 39.77 L245.08 39.65 L245.48 39.59 L245.88 39.89 L246.28 40.86 L246.68 42.17 L247.08 43.63 L247.48 45.65 L247.88 47.87 L248.28 49.86 L248.68 51.84 L249.08 53.72 L249.48 55.27 L249.88 56.37 L250.28 57.38 L250.68 58.15 L251.08 58.48 L251.48 58.22 L251.88 57.49 L252.28 56.5 L252.68 55.47 L253.08 54.14 L253.48 52.58 L253.88 51.1 L254.28 49.71 L254.68 48.33 L255.08 47.12 L255.48 46.23 L255.88 45.44 L256.28 44.83 L256.68 44.59 L257.08 44.64 L257.48 44.75 L257.88 44.92 L258.28 45.39 L258.68 46.47 L259.08 47.76 L259.48 48.94 L259.88 50.18 L260.28 51.46 L260.68 52.74 L261.08 54.06 L261.48 55.44 L261.88 56.71 L262.28 57.68 L262.68 58.51 L263.08 59.24 L263.48 59.7 L263.88 59.74 L264.28 59.42 L264.68 58.91 L265.08 58.37 L265.48 57.77 L265.88 57.04 L266.28 56.18 L266.68 55.13 L267.08 53.66 L267.48 52.08 L267.88 50.77 L268.28 49.58 L268.68 48.46 L269.08 47.47 L269.48 46.68 L269.88 46.08 L270.28 45.53 L270.68 45.05 L271.08 44.72 L271.48 44.59 L271.88 44.61 L272.28 44.67 L272.68 44.76 L273.08 44.88 L273.48 45.05 L273.88 45.52 L274.28 46.28 L274.68 47.17 L275.08 48.07 L275.48 48.96 L275.88 49.97 L276.28 51.04 L276.68 52.08 L277.08 53.02 L277.48 53.9 L277.88 54.73 L278.28 55.52 L278.68 56.27 L279.08 56.96 L279.48 57.64 L279.88 58.28 L280.28 58.86 L280.68 59.34 L281.08 59.78 L281.48 60.21 L281.88 60.58 L282.28 60.82 L282.68 60.88 L283.08 60.65 L283.48 60.16 L283.88 59.51 L284.28 58.78 L284.68 57.98 L285.08 56.9 L285.48 55.61 L285.88 54.26 L286.28 52.97 L286.68 51.7 L287.08 50.36 L287.48 49.07 L287.88 47.95 L288.28 47.11 L288.68 46.34 L289.08 45.73 L289.48 45.52 L289.88 45.77 L290.28 46.31 L290.68 46.98 L291.08 47.62 L291.48 48.39 L291.88 49.24 L292.28 50.11 L292.68 50.9 L293.08 51.64 L293.48 52.44 L293.88 53.17 L294.28 53.69 L294.68 53.85 L295.08 53.58 L295.48 52.99 L295.88 52.23 L296.28 51.44 L296.68 50.71 L297.08 49.91 L297.48 49.06 L297.88 48.22 L298.28 47.46 L298.68 46.74 L299.08 46 L299.48 45.32 L299.88 44.81 L300.28 44.55 L300.68 44.4 L301.08 44.29 L301.48 44.23 L301.88 44.37 L302.28 45.27 L302.68 46.64 L303.08 48.08 L303.48 49.46 L303.88 51.03 L304.28 52.67 L304.68 54.28 L305.08 55.8 L305.48 57.42 L305.88 58.99 L306.28 60.33 L306.68 61.29 L307.08 62 L307.48 62.62 L307.88 63.02 L308.28 63.07 L308.68 62.58 L309.08 61.64 L309.48 60.45 L309.88 59.19 L310.28 57.49 L310.68 55.36 L311.08 53.12 L311.48 51.04 L311.88 48.84 L312.28 46.71 L312.68 44.93 L313.08 43.6 L313.48 42.43 L313.88 41.48 L314.28 40.86 L314.68 40.45 L315.08 40.12 L315.48 39.97 L315.88 40.13 L316.28 40.69 L316.68 41.46 L317.08 42.39 L317.48 43.78 L317.88 45.45 L318.28 47.16 L318.68 48.86 L319.08 50.69 L319.48 52.49 L319.88 54.11 L320.28 55.64 L320.68 57.1 L321.08 58.4 L321.48 59.41 L321.88 60.19 L322.28 60.87 L322.68 61.45 L323.08 61.93 L323.48 62.33 L323.88 62.71 L324.28 63.01 L324.68 63.1 L325.08 62.61 L325.48 61.54 L325.88 60.19 L326.28 58.78 L326.68 56.92 L327.08 54.75 L327.48 52.57 L327.88 50.51 L328.28 48.39 L328.68 46.35 L329.08 44.56 L329.48 43.04 L329.88 41.66 L330.28 40.39 L330.68 39.21 L331.08 38.03 L331.48 36.84 L331.88 35.74 L332.28 34.87 L332.68 34.31 L333.08 33.89 L333.48 33.54 L333.88 33.27 L334.28 33.13 L334.68 33.2 L335.08 33.66 L335.48 34.39 L335.88 35.24 L336.28 36.29 L336.68 37.74 L337.08 39.46 L337.48 41.3 L337.88 43.24 L338.28 45.44 L338.68 47.8 L339.08 50.19 L339.48 52.47 L339.88 54.76 L340.28 57.34 L340.68 60.63 L341.08 65.85 L341.48 69.59 L341.88 70.94 L342.28 71.9 L342.68 72.35 L343.08 72.22 L343.48 71.68 L343.88 70.92 L344.28 70.03 L344.68 68.74 L345.08 67.12 L345.48 65.31 L345.88 63.24 L346.28 60.72 L346.68 58.03 L347.08 55.42 L347.48 52.78 L347.88 50.1 L348.28 47.66 L348.68 45.68 L349.08 43.84 L349.48 42.25 L349.88 41.11 L350.28 40.46 L350.68 39.92 L351.08 39.55 L351.48 39.41 L351.88 39.66 L352.28 40.3 L352.68 41.17 L353.08 42.11 L353.48 43.47 L353.88 45.14 L354.28 46.78 L354.68 48.2 L355.08 49.63 L355.48 50.93 L355.88 51.92 L356.28 52.64 L356.68 53.28 L357.08 53.72 L357.48 53.84 L357.88 53.4 L358.28 52.55 L358.68 51.55 L359.08 50.63 L359.48 49.56 L359.88 48.46 L360.28 47.53 L360.68 46.82 L361.08 46.11 L361.48 45.5 L361.88 45.09 L362.28 44.96 L362.68 44.96 L363.08 44.96 L363.48 44.96 L363.88 45.04 L364.28 45.7 L364.68 46.78 L365.08 48 L365.48 49.26 L365.88 50.84 L366.28 52.55 L366.68 54.17 L367.08 55.56 L367.48 56.92 L367.88 58.2 L368.28 59.35 L368.68 60.29 L369.08 61.11 L369.48 61.92 L369.88 62.59 L370.28 63.02 L370.68 63.09 L371.08 62.78 L371.48 62.19 L371.88 61.42 L372.28 60.59 L372.68 59.71 L373.08 58.58 L373.48 57.3 L373.88 55.97 L374.28 54.71 L374.68 53.45 L375.08 52.14 L375.48 50.88 L375.88 49.76 L376.28 48.85 L376.68 48 L377.08 47.22 L377.48 46.58 L377.88 46.13 L378.28 45.87 L378.68 45.66 L379.08 45.53 L379.48 45.59 L379.88 46.01 L380.28 46.63 L380.68 47.28 L381.08 47.92 L381.48 48.67 L381.88 49.43 L382.28 50.11 L382.68 50.62 L383.08 51.06 L383.48 51.48 L383.88 51.8 L384.28 51.98 L384.68 51.95 L385.08 51.69 L385.48 51.25 L385.88 50.72 L386.28 50.17 L386.68 49.5 L387.08 48.62 L387.48 47.69 L387.88 46.87 L388.28 46.27 L388.68 45.72 L389.08 45.25 L389.48 44.99 L389.88 45.07 L390.28 45.6 L390.68 46.41 L391.08 47.31 L391.48 48.36 L391.88 49.71 L392.28 51.19 L392.68 52.61 L393.08 53.92 L393.48 55.28 L393.88 56.58 L394.28 57.72 L394.68 58.58 L395.08 59.31 L395.48 59.99 L395.88 60.53 L396.28 60.85 L396.68 60.81 L397.08 60.27 L397.48 59.36 L397.88 58.28 L398.28 57.17 L398.68 55.71 L399.08 54.04 L399.48 52.48 L399.88 51.21 L400.28 49.94 L400.68 48.88 L401.08 48.31 L401.48 48.14 L401.88 48.02 L402.28 47.94 L402.68 47.94 L403.08 48.32 L403.48 49.03 L403.88 49.82 L404.28 50.5 L404.68 51.25 L405.08 52 L405.48 52.63 L405.88 53.05 L406.28 53.4 L406.68 53.68 L407.08 53.84 L407.48 53.78 L407.88 53.45 L408.28 52.92 L408.68 52.31 L409.08 51.68 L409.48 50.82 L409.88 49.84 L410.28 48.87 L410.68 48.06 L411.08 47.3 L411.48 46.59 L411.88 45.96 L412.28 45.45 L412.68 44.97 L413.08 44.54 L413.48 44.27 L413.88 44.27 L414.28 44.64 L414.68 45.32 L415.08 46.2 L415.48 47.57 L415.88 50 L416.28 52.68 L416.68 54.97 L417.08 57.32 L417.48 59.36 L417.88 60.56 L418.28 61.37 L418.68 61.96 L419.08 62.19 L419.48 61.76 L419.88 60.72 L420.28 59.39 L420.68 58.06 L421.08 56.44 L421.48 54.59 L421.88 52.7 L422.28 50.88 L422.68 48.96 L423.08 47.12 L423.48 45.63 L423.88 44.44 L424.28 43.33 L424.68 42.43 L425.08 41.88 L425.48 41.68 L425.88 41.54 L426.28 41.46 L426.68 41.53 L427.08 42.16 L427.48 43.18 L427.88 44.36 L428.28 45.73 L428.68 47.58 L429.08 49.54 L429.48 51.21 L429.88 52.69 L430.28 54.07 L430.68 55.21 L431.08 55.95 L431.48 56.51 L431.88 56.96 L432.28 57.32 L432.68 57.62 L433.08 57.9 L433.48 58.16 L433.88 58.36 L434.28 58.47 L434.68 58.44 L435.08 58.18 L435.48 57.75 L435.88 57.22 L436.28 56.65 L436.68 55.95 L437.08 55.03 L437.48 53.95 L437.88 52.78 L438.28 51.59 L438.68 50.19 L439.08 48.64 L439.48 47.14 L439.88 45.84 L440.28 44.77 L440.68 43.69 L441.08 42.73 L441.48 42.05 L441.88 41.81 L442.28 41.81 L442.68 41.81 L443.08 41.81 L443.48 42.13 L443.88 43.14 L444.28 44.45 L444.68 45.66 L445.08 46.83 L445.48 48.09 L445.88 49.35 L446.28 50.53 L446.68 51.62 L447.08 52.79 L447.48 53.92 L447.88 54.82 L448.28 55.31 L448.68 55.45 L449.08 55.56 L449.48 55.64 L449.88 55.69 L450.28 55.68 L450.68 55.09 L451.08 54.1 L451.48 53.19 L451.88 52.7 L452.28 52.32 L452.68 52.06 L453.08 52.02 L453.48 52.41 L453.88 53.1 L454.28 53.9 L454.68 54.89 L455.08 56.17 L455.48 57.58 L455.88 59 L456.28 60.76 L456.68 62.53 L457.08 63.8 L457.48 64.33 L457.88 64.7 L458.28 64.92 L458.68 64.79 L459.08 63.1 L459.48 60.26 L459.88 56.97 L460.28 51.94 L460.68 45.94 L461.08 40.96 L461.48 36.52 L461.88 32.77 L462.28 29.95 L462.68 27.43 L463.08 26.11 L463.48 26.28 L463.88 26.98 L464.28 27.99 L464.68 30.18 L465.08 33.61 L465.48 37.28 L465.88 41.45 L466.28 46.02 L466.68 50.63 L467.08 55.53 L467.48 60.13 L467.88 64.14 L468.28 67.87 L468.68 70.43 L469.08 71.9 L469.48 72.97 L469.88 73.29 L470.28 72.97 L470.68 72.28 L471.08 71.41 L471.48 70.52 L471.88 69.62 L472.28 68.55 L472.68 67.2 L473.08 65.2 L473.48 62.27 L473.88 59.03 L474.28 55.96 L474.68 52.64 L475.08 49.42 L475.48 46.82 L475.88 44.86 L476.28 43.03 L476.68 41.7 L477.08 41.26 L477.48 41.34 L477.88 41.52 L478.28 41.78 L478.68 42.41 L479.08 43.65 L479.48 45.05 L479.88 46.31 L480.28 47.65 L480.68 48.96 L481.08 50.08 L481.48 51.07 L481.88 52.04 L482.28 52.73 L482.68 52.92 L483.08 52.78 L483.48 52.5 L483.88 52.16 L484.28 51.79 L484.68 51.27 L485.08 50.69 L485.48 50.21 L485.88 49.87 L486.28 49.54 L486.68 49.3 L487.08 49.23 L487.48 49.6 L487.88 50.42 L488.28 51.42 L488.68 52.42 L489.08 53.67 L489.48 55.05 L489.88 56.31 L490.28 57.39 L490.68 58.52 L491.08 59.41 L491.48 59.78 L491.88 59.65 L492.28 59.32 L492.68 58.86 L493.08 58.3 L493.48 57.35 L493.88 56.04 L494.28 54.5 L494.68 52.75 L495.08 50.43 L495.48 47.92 L495.88 45.72 L496.28 43.9 L496.68 42.17 L497.08 40.74 L497.48 39.83 L497.88 39.19 L498.28 38.75 L498.68 38.74 L499.08 39.39 L499.48 40.46 L499.88 41.84 L500.28 44.04 L500.68 46.67 L501.08 49.34 L501.48 52.33 L501.88 55.49 L502.28 58.52 L502.68 61.32 L503.08 64.13 L503.48 66.67 L503.88 68.64 L504.28 70.22 L504.68 71.59 L505.08 72.33 L505.48 71.9 L505.88 70.1 L506.28 67.55 L506.68 64.87 L507.08 61.72 L507.48 57.93 L507.88 54.17 L508.28 51.01 L508.68 47.97 L509.08 45.2 L509.48 43.19 L509.88 42.15 L510.28 41.33 L510.68 40.76 L511.08 40.52 L511.48 40.8 L511.88 41.59 L512.28 42.71 L512.68 43.97 L513.08 45.85 L513.48 48.3 L513.88 50.85 L514.28 53.27 L514.68 55.96 L515.08 58.33 L515.48 59.67 L515.88 60.51 L516.28 60.89 L516.68 59.96 L517.08 57.59 L517.48 54.65 L517.88 51.41 L518.28 47.16 L518.68 42.83 L519.08 39.18 L519.48 35.61 L519.88 32.98 L520.28 31.84 L520.68 31.27 L521.08 31.68 L521.48 32.93 L521.88 34.53 L522.28 36.79 L522.68 39.82 L523.08 43.12 L523.48 46.57 L523.88 50.4 L524.28 54.23 L524.68 57.92 L525.08 61.76 L525.48 64.64 L525.88 66.17 L526.28 67.31 L526.68 67.74 L527.08 66.43 L527.48 63.49 L527.88 60.06 L528.28 56.43 L528.68 51.98 L529.08 47.86 L529.48 44.89 L529.88 42.31 L530.28 40.68 L530.68 40.18 L531.08 39.96 L531.48 40.71 L531.88 42.64 L532.28 44.94 L532.68 48.11 L533.08 51.8 L533.48 54.89 L533.88 57.44 L534.28 59.83 L534.68 62.26 L535.08 64.93 L535.48 67.81 L535.88 70.66 L536.28 73.21 L536.68 75.78 L537.08 78.09 L537.48 78.76 L537.88 75.67 L538.28 70.15 L538.68 64.46 L539.08 57.5 L539.48 50.5 L539.88 44.63 L540.28 38.96 L540.68 35.51 L541.08 34.71 L541.48 34.41" stroke="#0000ff"/>
</g>
<path d="M41.5 80.4V75.9M41.5 6.5V11M119.62 80.4V75.9M119.62 6.5V11M197.75 80.4V75.9M197.75 6.5V11M275.88 80.4V75.9M275.88 6.5V11M354 80.4V75.9M354 6.5V11M432.12 80.4V75.9M432.12 6.5V11M510.25 80.4V75.9M510.25 6.5V11M41.5 80.4H46M541.5 80.4H537M41.5 49.61H46M541.5 49.61H537M41.5 18.82H46M541.5 18.82H537" stroke="#979797" stroke-width="1" fill="none"/>
<rect x="41.5" y="6.5" width="500" height="73.9" fill="none" stroke="#979797" stroke-width="1"/>
<g font-family="'Liberation Sans', Arial, Helvetica, sans-serif" font-size="9.7" fill="#1e1e1e" stroke="#1e1e1e" stroke-width="0.3"><text transform="translate(41.5 94.2) scale(1.093 1)" text-anchor="middle">0</text><text transform="translate(119.62 94.2) scale(1.093 1)" text-anchor="middle">1000</text><text transform="translate(197.75 94.2) scale(1.093 1)" text-anchor="middle">2000</text><text transform="translate(275.88 94.2) scale(1.093 1)" text-anchor="middle">3000</text><text transform="translate(354 94.2) scale(1.093 1)" text-anchor="middle">4000</text><text transform="translate(432.12 94.2) scale(1.093 1)" text-anchor="middle">5000</text><text transform="translate(510.25 94.2) scale(1.093 1)" text-anchor="middle">6000</text><text transform="translate(38.6 83.87) scale(1.093 1)" text-anchor="end">0</text><text transform="translate(38.6 53.08) scale(1.093 1)" text-anchor="end">0.5</text><text transform="translate(38.6 22.29) scale(1.093 1)" text-anchor="end">1</text></g>
<g font-family="'Liberation Sans', Arial, Helvetica, sans-serif" font-size="11.0" fill="#1e1e1e" stroke="#1e1e1e" stroke-width="0.3"><text transform="translate(291.5 109.2) scale(1.055 1)" text-anchor="middle">Time index (x)</text></g>
<g font-family="'Liberation Sans', Arial, Helvetica, sans-serif" font-size="10.8" fill="#1e1e1e" stroke="#1e1e1e" stroke-width="0.3"><text transform="translate(18.9 43.45) rotate(-90) scale(1.065 1)" text-anchor="middle">Amplitude</text></g>
<rect x="244.9" y="7.4" width="210.7" height="15" fill="#fff" stroke="#b0b0b0" stroke-width="1"/>
<path d="M246.6 14.9H262.5" stroke="#ff0000" stroke-width="1.3"/>
<path d="M334.6 14.9H350.3" stroke="#0000ff" stroke-width="1.3"/>
<g font-family="'Liberation Sans', Arial, Helvetica, sans-serif" font-size="10.4" fill="#000" stroke="#000" stroke-width="0.3"><text transform="translate(263.5 18.8) scale(1.024 1)">Original signal</text><text transform="translate(351.6 18.8) scale(1.024 1)">Decompressed signal</text></g>
<text x="276.5" y="136.9" text-anchor="middle" font-family="'Liberation Serif', 'Times New Roman', serif" font-size="10.0" fill="#0a0a0a" stroke="#0a0a0a" stroke-width="0.2">CR = 75%, BER = 0.0205</text>
<defs><clipPath id="c1"><rect x="35.5" y="155.3" width="508.8" height="70"/></clipPath></defs>
<path d="M115 155.3V225.3M194.5 155.3V225.3M274 155.3V225.3M353.5 155.3V225.3M433 155.3V225.3M512.5 155.3V225.3M35.5 196.13H544.3M35.5 166.97H544.3" stroke="#f2f2f2" stroke-width="1" fill="none"/>
<g clip-path="url(#c1)" fill="none" stroke-width="1.3" stroke-linejoin="round" stroke-linecap="round">
<path d="M35.86 198.27 L36.26 177.61 L36.66 175.69 L37.06 179.99 L37.46 184.17 L37.86 187.36 L38.26 190.62 L38.66 194.15 L39.06 197.75 L39.46 201.15 L39.86 204.18 L40.26 207.15 L40.66 209.96 L41.06 212.46 L41.46 214.47 L41.86 216.08 L42.26 217.59 L42.66 218.73 L43.06 219.18 L43.46 217.95 L43.86 214.87 L44.26 210.92 L44.66 206.14 L45.06 199.15 L45.46 192.12 L45.86 187.17 L46.26 182.89 L46.66 179.53 L47.06 178.24 L47.46 179.92 L47.86 183.36 L48.26 186.65 L48.66 189.92 L49.06 192.71 L49.46 194.31 L49.86 195.52 L50.26 196.51 L50.66 197.43 L51.06 198.18 L51.46 198.83 L51.86 199.68 L52.26 201.32 L52.66 204.1 L53.06 207.24 L53.46 211.06 L53.86 214.74 L54.26 218.29 L54.66 221.5 L55.06 222.62 L55.46 219.76 L55.86 214.42 L56.26 207.25 L56.66 198.36 L57.06 191.43 L57.46 185.78 L57.86 183.62 L58.26 182.69 L58.66 182.77 L59.06 183.65 L59.46 184.9 L59.86 186.38 L60.26 188.36 L60.66 190.32 L61.06 192.43 L61.46 193.93 L61.86 194.6 L62.26 195.1 L62.66 195.76 L63.06 196.53 L63.46 197.35 L63.86 198.16 L64.26 199.07 L64.66 200.09 L65.06 200.79 L65.46 200.36 L65.86 197.43 L66.26 193.9 L66.66 191.93 L67.06 190.92 L67.46 190.11 L67.86 189.64 L68.26 189.6 L68.66 189.94 L69.06 190.58 L69.46 191.42 L69.86 193.73 L70.26 196.79 L70.66 198.55 L71.06 199.33 L71.46 199.95 L71.86 200.51 L72.26 201.01 L72.66 201.82 L73.06 204.44 L73.46 208.5 L73.86 211.98 L74.26 215.33 L74.66 217.39 L75.06 216.78 L75.46 215.14 L75.86 213.96 L76.26 213.65 L76.66 213.46 L77.06 213.21 L77.46 212.6 L77.86 211.28 L78.26 209.36 L78.66 206.62 L79.06 201.01 L79.46 195.69 L79.86 191.94 L80.26 189.31 L80.66 189.09 L81.06 189.29 L81.46 189.5 L81.86 189.53 L82.26 189.11 L82.66 188.32 L83.06 187.18 L83.46 184.83 L83.86 182 L84.26 179.71 L84.66 177.68 L85.06 176.05 L85.46 175.72 L85.86 177.16 L86.26 179.53 L86.66 182.03 L87.06 185.24 L87.46 188.49 L87.86 191.02 L88.26 193.17 L88.66 195.15 L89.06 197.09 L89.46 198.88 L89.86 200.64 L90.26 202.58 L90.66 205.08 L91.06 207.8 L91.46 209.79 L91.86 210.97 L92.26 211.96 L92.66 213.16 L93.06 214.61 L93.46 216 L93.86 217.04 L94.26 217.44 L94.66 215.94 L95.06 212.62 L95.46 208.92 L95.86 203.69 L96.26 198.42 L96.66 196.15 L97.06 195.35 L97.46 194.81 L97.86 194.26 L98.26 193.42 L98.66 192.33 L99.06 191.21 L99.46 190.22 L99.86 189.18 L100.26 188.35 L100.66 188.27 L101.06 189.37 L101.46 191.22 L101.86 193.7 L102.26 197.77 L102.66 201.4 L103.06 204.65 L103.46 207.22 L103.86 207.64 L104.26 204.9 L104.66 200.92 L105.06 197.59 L105.46 193.99 L105.86 191.54 L106.26 191.35 L106.66 191.56 L107.06 191.9 L107.46 192.37 L107.86 193.5 L108.26 194.59 L108.66 194.76 L109.06 194.53 L109.46 194.19 L109.86 193.87 L110.26 193.49 L110.66 193.14 L111.06 193.14 L111.46 194.36 L111.86 196.34 L112.26 198.36 L112.66 200.76 L113.06 203.39 L113.46 206.33 L113.86 209.9 L114.26 212.12 L114.66 212.13 L115.06 211.81 L115.46 211.28 L115.86 210.56 L116.26 209.71 L116.66 208.74 L117.06 207.69 L117.46 206.1 L117.86 203.9 L118.26 201.34 L118.66 198.15 L119.06 194.07 L119.46 190.19 L119.86 187.28 L120.26 184.49 L120.66 182.16 L121.06 180.92 L121.46 181.28 L121.86 182.98 L122.26 185.41 L122.66 188.28 L123.06 193.14 L123.46 197.44 L123.86 198.67 L124.26 199.11 L124.66 198.9 L125.06 198.05 L125.46 197.42 L125.86 197.87 L126.26 199.22 L126.66 200.7 L127.06 202.59 L127.46 204.62 L127.86 206.31 L128.26 207.71 L128.66 208.92 L129.06 209.84 L129.46 210.66 L129.86 211.24 L130.26 210.64 L130.66 205.37 L131.06 198.18 L131.46 191.88 L131.86 185.34 L132.26 180.98 L132.66 178.04 L133.06 176.52 L133.46 177.17 L133.86 179.2 L134.26 181.77 L134.66 185.75 L135.06 190.77 L135.46 194.37 L135.86 196.7 L136.26 198.62 L136.66 200.14 L137.06 201.27 L137.46 202.08 L137.86 202.77 L138.26 203.56 L138.66 204.5 L139.06 205.53 L139.46 206.67 L139.86 208.05 L140.26 209.69 L140.66 211.21 L141.06 212.63 L141.46 213.78 L141.86 213.11 L142.26 208.59 L142.66 203.66 L143.06 198.71 L143.46 194.48 L143.86 192.24 L144.26 190.6 L144.66 189.31 L145.06 188.11 L145.46 186.87 L145.86 185.82 L146.26 185.25 L146.66 185.46 L147.06 186.6 L147.46 188.32 L147.86 190.52 L148.26 194.57 L148.66 198.27 L149.06 200.46 L149.46 202.23 L149.86 203.84 L150.26 205.65 L150.66 207.6 L151.06 208.7 L151.46 207.54 L151.86 204.23 L152.26 200.91 L152.66 197.98 L153.06 195.22 L153.46 193.83 L153.86 193.31 L154.26 193.06 L154.66 193.48 L155.06 194.87 L155.46 196.44 L155.86 198.19 L156.26 199.79 L156.66 199.53 L157.06 197.24 L157.46 195.07 L157.86 194.39 L158.26 194 L158.66 194 L159.06 194.96 L159.46 196.56 L159.86 198.46 L160.26 201.25 L160.66 203.8 L161.06 206.21 L161.46 207.78 L161.86 206.76 L162.26 203.21 L162.66 199.38 L163.06 196.12 L163.46 192.84 L163.86 190.26 L164.26 188.29 L164.66 186.62 L165.06 185.41 L165.46 184.62 L165.86 183.95 L166.26 183.53 L166.66 183.67 L167.06 185.31 L167.46 187.73 L167.86 190.22 L168.26 193.25 L168.66 196.59 L169.06 200.1 L169.46 203.92 L169.86 207.57 L170.26 211.01 L170.66 214.29 L171.06 216.7 L171.46 218.5 L171.86 219.1 L172.26 216.34 L172.66 212.06 L173.06 208.06 L173.46 204.01 L173.86 202.06 L174.26 201.19 L174.66 200.43 L175.06 199.32 L175.46 197.98 L175.86 196.21 L176.26 193.11 L176.66 188.21 L177.06 183.78 L177.46 180.49 L177.86 177.63 L178.26 176.5 L178.66 177.27 L179.06 179.07 L179.46 181.45 L179.86 185.91 L180.26 191.39 L180.66 196.81 L181.06 202.23 L181.46 205.97 L181.86 209.02 L182.26 211.03 L182.66 211.62 L183.06 211.97 L183.46 212.17 L183.86 212.15 L184.26 211.32 L184.66 209.76 L185.06 207.86 L185.46 204.88 L185.86 200.76 L186.26 196.85 L186.66 192.85 L187.06 189.11 L187.46 186.85 L187.86 185.7 L188.26 184.97 L188.66 185.13 L189.06 186.91 L189.46 188.84 L189.86 190.51 L190.26 191.92 L190.66 192.64 L191.06 193.07 L191.46 193.52 L191.86 194.33 L192.26 195.85 L192.66 197.6 L193.06 199.09 L193.46 200.52 L193.86 201.83 L194.26 202.87 L194.66 203.83 L195.06 204.36 L195.46 202.61 L195.86 198.78 L196.26 196.37 L196.66 194.57 L197.06 193.92 L197.46 194.31 L197.86 195.07 L198.26 195.92 L198.66 197.09 L199.06 198.44 L199.46 199.67 L199.86 200.77 L200.26 202.03 L200.66 203.81 L201.06 206.32 L201.46 209 L201.86 211.58 L202.26 214.22 L202.66 216.43 L203.06 218.24 L203.46 219.18 L203.86 217.24 L204.26 213.1 L204.66 208.91 L205.06 204.76 L205.46 200.33 L205.86 195.86 L206.26 190.92 L206.66 187.04 L207.06 184.49 L207.46 182.78 L207.86 182.71 L208.26 183.31 L208.66 184.13 L209.06 185.24 L209.46 186.6 L209.86 186.65 L210.26 184.13 L210.66 181.7 L211.06 180.41 L211.46 179.42 L211.86 179.15 L212.26 180.71 L212.66 183.68 L213.06 188.4 L213.46 195.08 L213.86 201.3 L214.26 207.3 L214.66 212.18 L215.06 214.77 L215.46 210.6 L215.86 204 L216.26 198.53 L216.66 193.4 L217.06 192.4 L217.46 194.56 L217.86 197.41 L218.26 200.48 L218.66 203.56 L219.06 205.57 L219.46 206.91 L219.86 205.96 L220.26 202.78 L220.66 199.88 L221.06 197.1 L221.46 197.3 L221.86 202.09 L222.26 207.93 L222.66 214.89 L223.06 219.67 L223.46 223.43 L223.86 224.04 L224.26 219.09 L224.66 211.75 L225.06 202.56 L225.46 193.63 L225.86 187.17 L226.26 182.93 L226.66 183.14 L227.06 185.26 L227.46 187.79 L227.86 191.56 L228.26 193.91 L228.66 191.32 L229.06 185.69 L229.46 180.74 L229.86 175.99 L230.26 172.41 L230.66 169.45 L231.06 168.86 L231.46 171.8 L231.86 176.2 L232.26 181.26 L232.66 187.15 L233.06 192.97 L233.46 198.91 L233.86 205.22 L234.26 211.77 L234.66 215.63 L235.06 217.84 L235.46 218.07 L235.86 215.85 L236.26 212.65 L236.66 209.82 L237.06 206.93 L237.46 203.74 L237.86 199.78 L238.26 196.15 L238.66 193.74 L239.06 191.78 L239.46 190.46 L239.86 189.7 L240.26 189.15 L240.66 188.62 L241.06 188.05 L241.46 187.51 L241.86 187.03 L242.26 186.56 L242.66 186.16 L243.06 186.2 L243.46 187.2 L243.86 188.83 L244.26 191.06 L244.66 194.66 L245.06 198.12 L245.46 201.27 L245.86 204.04 L246.26 206.46 L246.66 208.4 L247.06 208.36 L247.46 206.08 L247.86 203.34 L248.26 201.49 L248.66 199.78 L249.06 198.83 L249.46 198.82 L249.86 198.89 L250.26 199.01 L250.66 199.15 L251.06 199.4 L251.46 199.76 L251.86 200 L252.26 199.86 L252.66 199.25 L253.06 198.46 L253.46 197.8 L253.86 197.31 L254.26 196.85 L254.66 196.56 L255.06 196.93 L255.46 198.47 L255.86 199.08 L256.26 197.51 L256.66 195.1 L257.06 193.39 L257.46 191.97 L257.86 191.3 L258.26 192.14 L258.66 194.02 L259.06 196.78 L259.46 200.41 L259.86 201.61 L260.26 202.32 L260.66 202.63 L261.06 202.63 L261.46 202.63 L261.86 202.63 L262.26 203.01 L262.66 203.78 L263.06 204.5 L263.46 205.17 L263.86 205.84 L264.26 206.48 L264.66 207.17 L265.06 207.76 L265.46 207.46 L265.86 205.14 L266.26 202.21 L266.66 198.43 L267.06 194.58 L267.46 191.82 L267.86 189.36 L268.26 187.53 L268.66 186.61 L269.06 185.95 L269.46 185.47 L269.86 185.22 L270.26 185.37 L270.66 186.08 L271.06 187.11 L271.46 188.22 L271.86 189.7 L272.26 191.37 L272.66 192.98 L273.06 194.64 L273.46 196.25 L273.86 197.65 L274.26 199.09 L274.66 199.99 L275.06 199.39 L275.46 197.92 L275.86 197.19 L276.26 196.78 L276.66 196.55 L277.06 196.83 L277.46 198.19 L277.86 199.73 L278.26 200.8 L278.66 201.77 L279.06 202.57 L279.46 203.21 L279.86 203.77 L280.26 204.22 L280.66 204.55 L281.06 204.78 L281.46 205.02 L281.86 205.36 L282.26 205.91 L282.66 206.59 L283.06 207.33 L283.46 208.35 L283.86 209.26 L284.26 209.58 L284.66 208 L285.06 204.86 L285.46 201.47 L285.86 198.36 L286.26 195 L286.66 192.26 L287.06 190.31 L287.46 188.72 L287.86 187.74 L288.26 187.14 L288.66 186.97 L289.06 187.45 L289.46 188.38 L289.86 189.46 L290.26 190.68 L290.66 192.24 L291.06 194.09 L291.46 196.41 L291.86 198.59 L292.26 200.5 L292.66 202.27 L293.06 204.02 L293.46 205.76 L293.86 207.26 L294.26 208.33 L294.66 209.25 L295.06 209.58 L295.46 208.08 L295.86 205.06 L296.26 201.73 L296.66 197.24 L297.06 192.52 L297.46 189.24 L297.86 186.57 L298.26 184.72 L298.66 184.05 L299.06 183.66 L299.46 183.47 L299.86 183.77 L300.26 184.99 L300.66 186.73 L301.06 189.64 L301.46 193.83 L301.86 197.34 L302.26 200.42 L302.66 203.39 L303.06 206.51 L303.46 209.67 L303.86 211.91 L304.26 213.58 L304.66 213.71 L305.06 211.73 L305.46 209.54 L305.86 207.82 L306.26 206.4 L306.66 205.67 L307.06 205.26 L307.46 205.87 L307.86 207.61 L308.26 208.72 L308.66 206.9 L309.06 202.71 L309.46 198.46 L309.86 193.51 L310.26 189.94 L310.66 187.4 L311.06 185.61 L311.46 185.33 L311.86 186.71 L312.26 188.64 L312.66 190.95 L313.06 193.32 L313.46 194.46 L313.86 195.07 L314.26 195.92 L314.66 197.52 L315.06 199.01 L315.46 199.9 L315.86 200.6 L316.26 200.89 L316.66 198.63 L317.06 194 L317.46 189.8 L317.86 185.93 L318.26 182.92 L318.66 181.54 L319.06 180.86 L319.46 182.09 L319.86 185.29 L320.26 189.57 L320.66 195.73 L321.06 199.85 L321.46 203 L321.86 204.67 L322.26 205.43 L322.66 206.05 L323.06 206.7 L323.46 207.4 L323.86 208.69 L324.26 211.05 L324.66 213.46 L325.06 216.2 L325.46 218.58 L325.86 219 L326.26 216.71 L326.66 213.13 L327.06 209.75 L327.46 206.08 L327.86 202.25 L328.26 198.42 L328.66 194.39 L329.06 190.98 L329.46 188.66 L329.86 186.82 L330.26 185.19 L330.66 183.56 L331.06 181.99 L331.46 180.51 L331.86 178.98 L332.26 177.26 L332.66 175.95 L333.06 175.71 L333.46 176.89 L333.86 178.87 L334.26 181.06 L334.66 183.99 L335.06 187.28 L335.46 191.29 L335.86 194.99 L336.26 197.18 L336.66 198.78 L337.06 198.98 L337.46 197.22 L337.86 194.83 L338.26 193.07 L338.66 191.33 L339.06 189.98 L339.46 189.61 L339.86 191 L340.26 193.47 L340.66 196.96 L341.06 201.86 L341.46 206.43 L341.86 211.22 L342.26 215.34 L342.66 217.72 L343.06 219.09 L343.46 216.87 L343.86 211.72 L344.26 210.41 L344.66 209.71 L345.06 210.07 L345.46 213.3 L345.86 216.8 L346.26 220.1 L346.66 222.5 L347.06 221.36 L347.46 216.67 L347.86 211.05 L348.26 203.47 L348.66 195.83 L349.06 188.57 L349.46 182.69 L349.86 181.14 L350.26 180.49 L350.66 180.34 L351.06 180.6 L351.46 181.03 L351.86 181.36 L352.26 181.48 L352.66 181.57 L353.06 181.74 L353.46 182.69 L353.86 184.55 L354.26 187.81 L354.66 193.01 L355.06 197.78 L355.46 202.38 L355.86 205.7 L356.26 208.46 L356.66 209.59 L357.06 208.47 L357.46 206.19 L357.86 203.87 L358.26 201.26 L358.66 198.65 L359.06 196.81 L359.46 195.47 L359.86 194.37 L360.26 193.43 L360.66 192.65 L361.06 191.92 L361.46 191.11 L361.86 190.19 L362.26 189.24 L362.66 188.35 L363.06 187.31 L363.46 186.43 L363.86 186.08 L364.26 186.93 L364.66 188.78 L365.06 190.91 L365.46 193.85 L365.86 197.24 L366.26 200.19 L366.66 203.14 L367.06 205.49 L367.46 206.53 L367.86 207.14 L368.26 207.57 L368.66 207.93 L369.06 208.29 L369.46 208.59 L369.86 208.73 L370.26 207.98 L370.66 206.11 L371.06 204.3 L371.46 202.82 L371.86 201.38 L372.26 200.24 L372.66 199.47 L373.06 198.79 L373.46 198.35 L373.86 198.37 L374.26 199.21 L374.66 200.41 L375.06 201.6 L375.46 202.99 L375.86 203.44 L376.26 201.88 L376.66 199.5 L377.06 197.18 L377.46 194.77 L377.86 193.42 L378.26 192.51 L378.66 192.18 L379.06 192.54 L379.46 193.28 L379.86 194.16 L380.26 195.66 L380.66 197.09 L381.06 197.38 L381.46 197.14 L381.86 196.73 L382.26 196.16 L382.66 195.14 L383.06 194.13 L383.46 193.44 L383.86 192.84 L384.26 192.53 L384.66 192.99 L385.06 194.27 L385.46 195.69 L385.86 197.49 L386.26 199.36 L386.66 199.98 L387.06 198.86 L387.46 197.52 L387.86 197.08 L388.26 196.8 L388.66 196.54 L389.06 196.28 L389.46 196.02 L389.86 195.57 L390.26 193.82 L390.66 191.66 L391.06 190.34 L391.46 189.23 L391.86 188.69 L392.26 189.64 L392.66 191.95 L393.06 194.52 L393.46 197.8 L393.86 200.35 L394.26 202.18 L394.66 203.38 L395.06 203.78 L395.46 203.97 L395.86 204.18 L396.26 204.7 L396.66 205.88 L397.06 207.35 L397.46 208.94 L397.86 210.76 L398.26 211.23 L398.66 209.33 L399.06 206.18 L399.46 202.94 L399.86 198.96 L400.26 195.5 L400.66 192.61 L401.06 190.27 L401.46 189.59 L401.86 190.27 L402.26 191.45 L402.66 192.63 L403.06 194.21 L403.46 195.47 L403.86 195.22 L404.26 192.95 L404.66 190.95 L405.06 191.15 L405.46 192.64 L405.86 194.51 L406.26 196.48 L406.66 198.8 L407.06 200.88 L407.46 202.8 L407.86 204.22 L408.26 204.23 L408.66 203.61 L409.06 202.79 L409.46 201.84 L409.86 200.65 L410.26 200.02 L410.66 200.32 L411.06 200.81 L411.46 200.02 L411.86 195.84 L412.26 191.35 L412.66 186.41 L413.06 182.81 L413.46 182.03 L413.86 181.72 L414.26 182.5 L414.66 184.58 L415.06 187.2 L415.46 191.43 L415.86 196.31 L416.26 199.83 L416.66 202.76 L417.06 205.16 L417.46 207.23 L417.86 208.94 L418.26 210.23 L418.66 211.23 L419.06 210.71 L419.46 208.08 L419.86 205.62 L420.26 203.57 L420.66 201.74 L421.06 200.39 L421.46 199.33 L421.86 199.75 L422.26 202.78 L422.66 204.36 L423.06 203.89 L423.46 202.9 L423.86 200.97 L424.26 197.58 L424.66 194.5 L425.06 191.38 L425.46 189.55 L425.86 189 L426.26 188.71 L426.66 188.85 L427.06 189.37 L427.46 189.46 L427.86 188.09 L428.26 186.96 L428.66 187.62 L429.06 189.44 L429.46 192.16 L429.86 196.97 L430.26 201.62 L430.66 206.38 L431.06 209.49 L431.46 208.85 L431.86 206.64 L432.26 204.44 L432.66 202.56 L433.06 201.07 L433.46 201.15 L433.86 202.39 L434.26 203.8 L434.66 205.39 L435.06 207.03 L435.46 208.31 L435.86 209.39 L436.26 209.3 L436.66 207.36 L437.06 205.01 L437.46 203.36 L437.86 201.8 L438.26 200.92 L438.66 201.8 L439.06 203.85 L439.46 204.3 L439.86 203.65 L440.26 202.56 L440.66 199.94 L441.06 195.73 L441.46 191.18 L441.86 185.2 L442.26 180.35 L442.66 178.61 L443.06 178.48 L443.46 180.58 L443.86 183.62 L444.26 188.16 L444.66 192.78 L445.06 196.87 L445.46 198.1 L445.86 195.42 L446.26 193.08 L446.66 193.64 L447.06 195.04 L447.46 196.26 L447.86 197.44 L448.26 198.39 L448.66 199.05 L449.06 199.61 L449.46 200.22 L449.86 201.01 L450.26 201.64 L450.66 201.65 L451.06 200.81 L451.46 199.6 L451.86 198.26 L452.26 196.55 L452.66 195.49 L453.06 194.92 L453.46 194.94 L453.86 196.48 L454.26 198.25 L454.66 199.48 L455.06 200.55 L455.46 201.35 L455.86 202.02 L456.26 202.54 L456.66 202.86 L457.06 203.06 L457.46 203.3 L457.86 203.77 L458.26 204.78 L458.66 206.25 L459.06 208.98 L459.46 212.28 L459.86 215.09 L460.26 217.66 L460.66 217.82 L461.06 212.3 L461.46 204.57 L461.86 195.85 L462.26 186.44 L462.66 179.42 L463.06 173.47 L463.46 171.08 L463.86 170.52 L464.26 170.54 L464.66 172.24 L465.06 174.67 L465.46 177.39 L465.86 180.52 L466.26 183.74 L466.66 186.71 L467.06 186.76 L467.46 186.25 L467.86 186.1 L468.26 186.37 L468.66 186.92 L469.06 189.54 L469.46 194.23 L469.86 200.41 L470.26 207.24 L470.66 214.35 L471.06 219.38 L471.46 222.75 L471.86 223.29 L472.26 221.03 L472.66 218.29 L473.06 215.54 L473.46 213.31 L473.86 213.39 L474.26 214.43 L474.66 214.83 L475.06 214.83 L475.46 212.8 L475.86 207.36 L476.26 201.47 L476.66 194.22 L477.06 188.18 L477.46 183.28 L477.86 180.15 L478.26 180.69 L478.66 183.24 L479.06 186.8 L479.46 193.46 L479.86 197.4 L480.26 195.4 L480.66 191.62 L481.06 188.44 L481.46 185.31 L481.86 184.41 L482.26 185.9 L482.66 188.4 L483.06 192.28 L483.46 197.33 L483.86 200.72 L484.26 203.41 L484.66 204.28 L485.06 200.31 L485.46 194.76 L485.86 191.25 L486.26 189.07 L486.66 191.14 L487.06 195.61 L487.46 200.93 L487.86 204.47 L488.26 205.18 L488.66 203.57 L489.06 197.66 L489.46 192.68 L489.86 188.39 L490.26 186.09 L490.66 187.83 L491.06 191.99 L491.46 196.85 L491.86 202.87 L492.26 206.88 L492.66 209.47 L493.06 208.4 L493.46 205.1 L493.86 202.72 L494.26 200.85 L494.66 200.02 L495.06 200.45 L495.46 201.4 L495.86 202.74 L496.26 204.78 L496.66 206.6 L497.06 208.3 L497.46 208.09 L497.86 202.49 L498.26 195.51 L498.66 188.4 L499.06 183.03 L499.46 180.04 L499.86 179.14 L500.26 180 L500.66 181.5 L501.06 183.83 L501.46 187.15 L501.86 190.07 L502.26 192.81 L502.66 195.01 L503.06 196.56 L503.46 197.92 L503.86 199.34 L504.26 200.76 L504.66 202.44 L505.06 204.37 L505.46 206.65 L505.86 209.55 L506.26 213.41 L506.66 217.19 L507.06 221.46 L507.46 224.3 L507.86 221.74 L508.26 213.94 L508.66 206.35 L509.06 200.68 L509.46 195.57 L509.86 192.91 L510.26 191.87 L510.66 191.33 L511.06 192.32 L511.46 194.91 L511.86 195.6 L512.26 194.96 L512.66 193.91 L513.06 191.56 L513.46 188.56 L513.86 186.83 L514.26 185.56 L514.66 185.27 L515.06 186.41 L515.46 188.45 L515.86 192.05 L516.26 197.39 L516.66 204.62 L517.06 209.83 L517.46 211.66 L517.86 212.12 L518.26 209.54 L518.66 205.2 L519.06 201.32 L519.46 197.5 L519.86 193.78 L520.26 190.5 L520.66 187.33 L521.06 184.86 L521.46 183.45 L521.86 182.38 L522.26 181.77 L522.66 181.56 L523.06 181.42 L523.46 181.37 L523.86 181.82 L524.26 182.99 L524.66 184.62 L525.06 188.08 L525.46 192.34 L525.86 196.88 L526.26 201.64 L526.66 206.18 L527.06 210.65 L527.46 214.87 L527.86 218.89 L528.26 222.97 L528.66 224.31 L529.06 221.33 L529.46 216.22 L529.86 211.51 L530.26 206.46 L530.66 202.68 L531.06 201.06 L531.46 199.81 L531.86 197.61 L532.26 194.34 L532.66 191.62 L533.06 189.21 L533.46 187.84 L533.86 188.29 L534.26 189.63 L534.66 191.43 L535.06 194.36 L535.46 197.88 L535.86 202.61 L536.26 207.12 L536.66 209.63 L537.06 211.44 L537.46 212.96 L537.86 214.26 L538.26 215.38 L538.66 216.67 L539.06 218.45 L539.46 220.43 L539.86 222.17 L540.26 223.9 L540.66 223.9 L541.06 217.94 L541.46 209.87 L541.86 202.19 L542.26 193.81 L542.66 185.14 L543.06 176.56 L543.46 171.61 L543.75 169.52" stroke="#ff0000"/>
<path d="M35.48 199.07 L35.88 187.78 L36.28 181.94 L36.68 179.74 L37.08 180.37 L37.48 182.76 L37.88 185.52 L38.28 189.03 L38.68 193.07 L39.08 197.51 L39.48 202.62 L39.88 207.03 L40.28 210.24 L40.68 213.08 L41.08 215.36 L41.48 216.9 L41.88 218.11 L42.28 219.05 L42.68 219.44 L43.08 218.16 L43.48 214.78 L43.88 210.52 L44.28 205.57 L44.68 198.92 L45.08 192.94 L45.48 188.46 L45.88 184.63 L46.28 182.13 L46.68 180.47 L47.08 180.12 L47.48 181.93 L47.88 184.79 L48.28 187.59 L48.68 190.91 L49.08 193.88 L49.48 195.83 L49.88 197.4 L50.28 198.49 L50.68 199.06 L51.08 199.46 L51.48 200.2 L51.88 202.31 L52.28 205.45 L52.68 208.9 L53.08 213.47 L53.48 217.56 L53.88 219.76 L54.28 221.4 L54.68 222.21 L55.08 220.63 L55.48 216.05 L55.88 210.73 L56.28 204.06 L56.68 196.63 L57.08 191.27 L57.48 187.05 L57.88 184.04 L58.28 182.93 L58.68 182.45 L59.08 182.74 L59.48 184.13 L59.88 185.92 L60.28 188.1 L60.68 190.78 L61.08 192.75 L61.48 193.92 L61.88 194.83 L62.28 195.62 L62.68 196.25 L63.08 196.88 L63.48 197.83 L63.88 199.31 L64.28 200.59 L64.68 200.82 L65.08 199.44 L65.48 197.24 L65.88 195.25 L66.28 193.48 L66.68 191.86 L67.08 190.9 L67.48 190.26 L67.88 189.87 L68.28 189.96 L68.68 190.89 L69.08 192.23 L69.48 194 L69.88 196.49 L70.28 198.47 L70.68 199.53 L71.08 200.33 L71.48 201.06 L71.88 201.63 L72.28 202.24 L72.68 203.46 L73.08 206.52 L73.48 210.06 L73.88 212.79 L74.28 215.39 L74.68 216.96 L75.08 217.31 L75.48 217.52 L75.88 217.59 L76.28 216.79 L76.68 215.15 L77.08 213.36 L77.48 211.24 L77.88 208.72 L78.28 205.81 L78.68 202.15 L79.08 198.46 L79.48 195.59 L79.88 193.05 L80.28 190.95 L80.68 189.79 L81.08 189.4 L81.48 189.15 L81.88 188.77 L82.28 188.2 L82.68 187.48 L83.08 186.54 L83.48 185.21 L83.88 183.74 L84.28 182.22 L84.68 180.52 L85.08 179.63 L85.48 180.05 L85.88 181.19 L86.28 182.64 L86.68 185 L87.08 188.02 L87.48 190.79 L87.88 193.41 L88.28 195.99 L88.68 198.46 L89.08 200.87 L89.48 203.19 L89.88 205.33 L90.28 207.31 L90.68 209.19 L91.08 210.88 L91.48 212.28 L91.88 213.63 L92.28 214.85 L92.68 215.62 L93.08 215.69 L93.48 215.29 L93.88 214.58 L94.28 213.57 L94.68 210.91 L95.08 207.31 L95.48 204.18 L95.88 201.16 L96.28 198.28 L96.68 195.77 L97.08 193.39 L97.48 191.29 L97.88 189.83 L98.28 188.88 L98.68 188.17 L99.08 187.99 L99.48 188.68 L99.88 189.95 L100.28 191.4 L100.68 193.42 L101.08 195.61 L101.48 197.64 L101.88 199.88 L102.28 201.53 L102.68 201.7 L103.08 200.43 L103.48 198.7 L103.88 197.23 L104.28 195.7 L104.68 194.55 L105.08 193.93 L105.48 193.41 L105.88 193.07 L106.28 192.97 L106.68 193.11 L107.08 193.37 L107.48 193.6 L107.88 193.81 L108.28 194.01 L108.68 194.14 L109.08 194.21 L109.48 194.29 L109.88 194.42 L110.28 195.27 L110.68 197.19 L111.08 199.29 L111.48 201.56 L111.88 204.02 L112.28 206.3 L112.68 208.64 L113.08 210.58 L113.48 211.6 L113.88 212.36 L114.28 212.85 L114.68 212.94 L115.08 212.59 L115.48 211.91 L115.88 211.04 L116.28 209.34 L116.68 206.79 L117.08 204.11 L117.48 201.61 L117.88 198.97 L118.28 196.41 L118.68 194.18 L119.08 192.05 L119.48 190.06 L119.88 188.52 L120.28 187.66 L120.68 187.05 L121.08 186.7 L121.48 186.92 L121.88 188.07 L122.28 189.62 L122.68 191.58 L123.08 194.16 L123.48 196.48 L123.88 198.38 L124.28 200.12 L124.68 201.65 L125.08 202.97 L125.48 204.15 L125.88 205.19 L126.28 206.11 L126.68 206.96 L127.08 207.71 L127.48 208.29 L127.88 208.75 L128.28 209.13 L128.68 209.24 L129.08 207.93 L129.48 205.42 L129.88 202.74 L130.28 199.35 L130.68 195.78 L131.08 192.71 L131.48 189.65 L131.88 187.15 L132.28 185.77 L132.68 184.86 L133.08 184.32 L133.48 184.49 L133.88 185.76 L134.28 187.56 L134.68 189.71 L135.08 192.58 L135.48 195.37 L135.88 197.81 L136.28 200.15 L136.68 202.3 L137.08 204.25 L137.48 206.08 L137.88 207.68 L138.28 209.02 L138.68 210.31 L139.08 211.07 L139.48 210.9 L139.88 210.11 L140.28 208.96 L140.68 207.56 L141.08 205.35 L141.48 202.75 L141.88 200.32 L142.28 197.91 L142.68 195.54 L143.08 193.48 L143.48 191.64 L143.88 189.92 L144.28 188.56 L144.68 187.77 L145.08 187.19 L145.48 186.74 L145.88 186.5 L146.28 186.67 L146.68 187.59 L147.08 188.93 L147.48 190.37 L147.88 192.31 L148.28 194.51 L148.68 196.54 L149.08 198.51 L149.48 200.43 L149.88 202.07 L150.28 203.23 L150.68 204.26 L151.08 205.09 L151.48 205.53 L151.88 205.17 L152.28 203.7 L152.68 201.74 L153.08 199.97 L153.48 198.39 L153.88 196.82 L154.28 195.57 L154.68 194.73 L155.08 194.01 L155.48 193.57 L155.88 193.65 L156.28 194.42 L156.68 195.54 L157.08 196.6 L157.48 197.75 L157.88 198.97 L158.28 200.05 L158.68 201.16 L159.08 202.2 L159.48 202.76 L159.88 202.62 L160.28 202.07 L160.68 201.29 L161.08 200.28 L161.48 198.59 L161.88 196.61 L162.28 194.78 L162.68 192.87 L163.08 190.99 L163.48 189.37 L163.88 188.13 L164.28 186.99 L164.68 186.08 L165.08 185.57 L165.48 185.39 L165.88 185.26 L166.28 185.19 L166.68 185.43 L167.08 186.46 L167.48 187.98 L167.88 189.74 L168.28 192.38 L168.68 195.57 L169.08 198.8 L169.48 202.38 L169.88 206.07 L170.28 209.16 L170.68 211.71 L171.08 213.98 L171.48 215.51 L171.88 216.17 L172.28 216.59 L172.68 216.53 L173.08 215.27 L173.48 213.14 L173.88 210.68 L174.28 207.06 L174.68 202.61 L175.08 198.41 L175.48 194.17 L175.88 190.21 L176.28 186.91 L176.68 183.86 L177.08 181.7 L177.48 180.55 L177.88 180 L178.28 180.56 L178.68 181.95 L179.08 183.73 L179.48 186.65 L179.88 190.42 L180.28 194.23 L180.68 198.48 L181.08 202.51 L181.48 205.77 L181.88 208.8 L182.28 211.17 L182.68 212.45 L183.08 213.34 L183.48 213.84 L183.88 213.51 L184.28 211.68 L184.68 209.06 L185.08 206.27 L185.48 202.56 L185.88 198.59 L186.28 195.12 L186.68 191.71 L187.08 189.17 L187.48 187.68 L187.88 186.54 L188.28 186.11 L188.68 186.95 L189.08 188.51 L189.48 190.01 L189.88 191.72 L190.28 193.46 L190.68 195.19 L191.08 196.91 L191.48 198.41 L191.88 199.92 L192.28 201.24 L192.68 201.85 L193.08 201.6 L193.48 200.95 L193.88 200.2 L194.28 199.5 L194.68 198.71 L195.08 197.91 L195.48 197.22 L195.88 196.57 L196.28 195.93 L196.68 195.48 L197.08 195.39 L197.48 195.76 L197.88 196.44 L198.28 197.27 L198.68 198.59 L199.08 200.45 L199.48 202.43 L199.88 204.38 L200.28 206.49 L200.68 208.56 L201.08 210.37 L201.48 212.18 L201.88 213.83 L202.28 214.77 L202.68 215 L203.08 215.14 L203.48 215.18 L203.88 214.03 L204.28 211.6 L204.68 208.74 L205.08 205.58 L205.48 201.69 L205.88 197.88 L206.28 194.19 L206.68 190.57 L207.08 187.47 L207.48 184.93 L207.88 182.62 L208.28 180.96 L208.68 180.13 L209.08 179.55 L209.48 179.27 L209.88 179.4 L210.28 179.88 L210.68 180.59 L211.08 182.27 L211.48 184.97 L211.88 187.74 L212.28 190.79 L212.68 193.91 L213.08 196.65 L213.48 199.27 L213.88 201.39 L214.28 202.85 L214.68 204.06 L215.08 204.63 L215.48 204.3 L215.88 203.5 L216.28 202.66 L216.68 201.75 L217.08 200.83 L217.48 200.14 L217.88 199.52 L218.28 199.12 L218.68 199.2 L219.08 199.86 L219.48 200.76 L219.88 201.82 L220.28 203.23 L220.68 204.68 L221.08 206.17 L221.48 207.7 L221.88 209.03 L222.28 210.17 L222.68 211.26 L223.08 211.95 L223.48 211.76 L223.88 210.21 L224.28 207.93 L224.68 204.93 L225.08 200.6 L225.48 196.3 L225.88 192.22 L226.28 188.34 L226.68 185.64 L227.08 183.72 L227.48 182.18 L227.88 180.99 L228.28 180.13 L228.68 179.37 L229.08 178.84 L229.48 178.75 L229.88 179.46 L230.28 180.75 L230.68 182.37 L231.08 184.9 L231.48 188 L231.88 191.46 L232.28 195.58 L232.68 199.78 L233.08 204.06 L233.48 208.32 L233.88 211.56 L234.28 214.27 L234.68 216.26 L235.08 216.53 L235.48 215.14 L235.88 212.94 L236.28 210.3 L236.68 206.44 L237.08 202.28 L237.48 198.8 L237.88 195.6 L238.28 192.72 L238.68 190.5 L239.08 188.71 L239.48 187.23 L239.88 186.19 L240.28 185.51 L240.68 184.99 L241.08 184.82 L241.48 185.31 L241.88 186.3 L242.28 187.44 L242.68 189.04 L243.08 190.88 L243.48 192.63 L243.88 194.42 L244.28 196.2 L244.68 197.91 L245.08 199.61 L245.48 201.35 L245.88 202.85 L246.28 203.81 L246.68 204.46 L247.08 204.91 L247.48 204.94 L247.88 204.25 L248.28 203.17 L248.68 202.12 L249.08 201.37 L249.48 200.65 L249.88 200.04 L250.28 199.64 L250.68 199.44 L251.08 199.29 L251.48 199.17 L251.88 199.04 L252.28 198.9 L252.68 198.78 L253.08 198.64 L253.48 198.51 L253.88 198.37 L254.28 198.23 L254.68 198.08 L255.08 197.89 L255.48 197.65 L255.88 197.28 L256.28 196.82 L256.68 196.36 L257.08 195.98 L257.48 195.66 L257.88 195.41 L258.28 195.53 L258.68 196.48 L259.08 197.81 L259.48 199.28 L259.88 201.12 L260.28 202.73 L260.68 203.89 L261.08 204.86 L261.48 205.71 L261.88 206.59 L262.28 207.27 L262.68 207.3 L263.08 206.46 L263.48 205.65 L263.88 206.06 L264.28 207.75 L264.68 208.29 L265.08 207.73 L265.48 206.7 L265.88 205.46 L266.28 203.56 L266.68 201.02 L267.08 198.52 L267.48 196.31 L267.88 194.1 L268.28 192.11 L268.68 190.57 L269.08 189.21 L269.48 188.19 L269.88 188 L270.28 188.39 L270.68 189.09 L271.08 189.91 L271.48 191.15 L271.88 192.76 L272.28 194.28 L272.68 195.56 L273.08 196.81 L273.48 197.88 L273.88 198.62 L274.28 199.19 L274.68 199.67 L275.08 199.95 L275.48 199.98 L275.88 199.84 L276.28 199.68 L276.68 199.64 L277.08 199.89 L277.48 200.37 L277.88 200.92 L278.28 201.54 L278.68 202.31 L279.08 203.14 L279.48 203.91 L279.88 204.68 L280.28 205.44 L280.68 206.18 L281.08 206.89 L281.48 207.64 L281.88 208.32 L282.28 208.84 L282.68 209.21 L283.08 209.52 L283.48 209.62 L283.88 208.7 L284.28 206.87 L284.68 204.97 L285.08 202.79 L285.48 200.36 L285.88 197.98 L286.28 195.39 L286.68 192.8 L287.08 190.93 L287.48 189.95 L287.88 189.17 L288.28 188.62 L288.68 188.31 L289.08 188.11 L289.48 187.99 L289.88 188.01 L290.28 188.51 L290.68 189.39 L291.08 190.6 L291.48 192.67 L291.88 194.95 L292.28 196.99 L292.68 199.03 L293.08 201.01 L293.48 202.99 L293.88 205.24 L294.28 206.98 L294.68 207.33 L295.08 206.31 L295.48 204.57 L295.88 202.46 L296.28 199.23 L296.68 195.67 L297.08 192.72 L297.48 189.99 L297.88 187.6 L298.28 186.05 L298.68 185.1 L299.08 184.43 L299.48 184.32 L299.88 185.3 L300.28 187.03 L300.68 189.07 L301.08 192.07 L301.48 195.42 L301.88 198.57 L302.28 201.79 L302.68 204.94 L303.08 207.98 L303.48 211.27 L303.88 213.6 L304.28 214.27 L304.68 214.66 L305.08 214.81 L305.48 214.34 L305.88 213.08 L306.28 211.56 L306.68 210.1 L307.08 208.41 L307.48 206.59 L307.88 204.71 L308.28 202.68 L308.68 200.62 L309.08 198.69 L309.48 196.76 L309.88 194.94 L310.28 193.56 L310.68 192.51 L311.08 191.62 L311.48 191.14 L311.88 191.39 L312.28 192.4 L312.68 193.58 L313.08 194.48 L313.48 195.38 L313.88 196.09 L314.28 196.28 L314.68 195.87 L315.08 195.16 L315.48 194.44 L315.88 193.71 L316.28 192.91 L316.68 192.31 L317.08 192 L317.48 191.76 L317.88 191.67 L318.28 192.16 L318.68 193.41 L319.08 194.97 L319.48 196.73 L319.88 199.07 L320.28 201.59 L320.68 203.92 L321.08 206.25 L321.48 208.54 L321.88 210.7 L322.28 212.79 L322.68 214.89 L323.08 216.55 L323.48 217.51 L323.88 218.27 L324.28 218.78 L324.68 218.81 L325.08 217.74 L325.48 215.86 L325.88 213.73 L326.28 211.01 L326.68 207.62 L327.08 204.23 L327.48 201.11 L327.88 197.97 L328.28 194.97 L328.68 192.26 L329.08 189.67 L329.48 187.23 L329.88 185.17 L330.28 183.68 L330.68 182.4 L331.08 181.35 L331.48 180.67 L331.88 180.33 L332.28 180.1 L332.68 180 L333.08 180.48 L333.48 181.71 L333.88 183.23 L334.28 185.59 L334.68 188.38 L335.08 190.59 L335.48 192.49 L335.88 194.02 L336.28 194.98 L336.68 195.7 L337.08 196.22 L337.48 196.56 L337.88 196.79 L338.28 197.13 L338.68 198.61 L339.08 201.84 L339.48 205.09 L339.88 207.4 L340.28 209.5 L340.68 211.42 L341.08 213.15 L341.48 214.78 L341.88 216.3 L342.28 217.57 L342.68 218.48 L343.08 219.2 L343.48 219.8 L343.88 220.26 L344.28 220.62 L344.68 220.95 L345.08 221.2 L345.48 221.3 L345.88 220.47 L346.28 218.5 L346.68 216.09 L347.08 212.5 L347.48 208.03 L347.88 203.55 L348.28 198.65 L348.68 193.96 L349.08 189.98 L349.48 186.32 L349.88 183.56 L350.28 181.72 L350.68 180.29 L351.08 179.59 L351.48 179.33 L351.88 179.3 L352.28 180.12 L352.68 181.57 L353.08 183.33 L353.48 185.95 L353.88 188.96 L354.28 191.91 L354.68 195.03 L355.08 197.95 L355.48 200.7 L355.88 203.23 L356.28 204.78 L356.68 205.73 L357.08 206.35 L357.48 206.42 L357.88 205.79 L358.28 204.73 L358.68 203.55 L359.08 202.06 L359.48 200.22 L359.88 198.35 L360.28 196.46 L360.68 194.48 L361.08 192.72 L361.48 191.36 L361.88 190.12 L362.28 189.19 L362.68 188.76 L363.08 188.55 L363.48 188.71 L363.88 189.79 L364.28 191.32 L364.68 193.18 L365.08 195.7 L365.48 198.15 L365.88 200.38 L366.28 202.59 L366.68 204.52 L367.08 205.92 L367.48 207.11 L367.88 208.1 L368.28 208.75 L368.68 209.01 L369.08 209.18 L369.48 209.26 L369.88 209.05 L370.28 208.34 L370.68 207.37 L371.08 206.37 L371.48 205.19 L371.88 203.8 L372.28 202.49 L372.68 201.47 L373.08 200.6 L373.48 199.84 L373.88 199.22 L374.28 198.77 L374.68 198.42 L375.08 198.12 L375.48 197.78 L375.88 197.37 L376.28 196.94 L376.68 196.54 L377.08 196.21 L377.48 195.94 L377.88 195.7 L378.28 195.47 L378.68 195.2 L379.08 194.87 L379.48 194.59 L379.88 194.45 L380.28 194.44 L380.68 194.44 L381.08 194.44 L381.48 194.45 L381.88 194.67 L382.28 195.03 L382.68 195.32 L383.08 195.3 L383.48 194.86 L383.88 194.47 L384.28 194.76 L384.68 195.89 L385.08 197.15 L385.48 198.35 L385.88 199.56 L386.28 200 L386.68 199.78 L387.08 199.33 L387.48 198.8 L387.88 198.3 L388.28 197.74 L388.68 197.12 L389.08 196.47 L389.48 195.69 L389.88 194.71 L390.28 193.86 L390.68 193.52 L391.08 193.88 L391.48 194.68 L391.88 195.63 L392.28 196.97 L392.68 198.63 L393.08 200.28 L393.48 201.68 L393.88 203.01 L394.28 204.26 L394.68 205.4 L395.08 206.47 L395.48 207.52 L395.88 208.4 L396.28 208.95 L396.68 209.32 L397.08 209.58 L397.48 209.56 L397.88 208.82 L398.28 207.53 L398.68 206.04 L399.08 204.46 L399.48 202.42 L399.88 200.22 L400.28 198.21 L400.68 196.31 L401.08 194.4 L401.48 192.87 L401.88 192.09 L402.28 191.65 L402.68 191.31 L403.08 191.13 L403.48 191.24 L403.88 191.98 L404.28 193.11 L404.68 194.29 L405.08 195.41 L405.48 196.67 L405.88 197.98 L406.28 199.26 L406.68 200.7 L407.08 202.17 L407.48 203.33 L407.88 203.9 L408.28 204.3 L408.68 204.56 L409.08 204.6 L409.48 203.71 L409.88 202.02 L410.28 200.07 L410.68 197.76 L411.08 194.9 L411.48 192.08 L411.88 188.97 L412.28 186.18 L412.68 184.76 L413.08 183.88 L413.48 183.38 L413.88 185.67 L414.28 194.05 L414.68 199.01 L415.08 201.21 L415.48 202.82 L415.88 204.14 L416.28 205.4 L416.68 206.57 L417.08 207.56 L417.48 208.28 L417.88 208.8 L418.28 209.24 L418.68 209.55 L419.08 209.61 L419.48 209.13 L419.88 208.19 L420.28 207.04 L420.68 205.89 L421.08 204.49 L421.48 202.9 L421.88 201.26 L422.28 199.56 L422.68 197.72 L423.08 195.9 L423.48 194.31 L423.88 192.81 L424.28 191.38 L424.68 190.26 L425.08 189.6 L425.48 189.11 L425.88 188.73 L426.28 188.53 L426.68 188.63 L427.08 189.12 L427.48 189.87 L427.88 190.72 L428.28 191.9 L428.68 193.5 L429.08 195.2 L429.48 196.68 L429.88 198.11 L430.28 199.47 L430.68 200.58 L431.08 201.32 L431.48 201.93 L431.88 202.41 L432.28 202.75 L432.68 202.95 L433.08 203.11 L433.48 203.24 L433.88 203.35 L434.28 203.45 L434.68 203.53 L435.08 203.63 L435.48 203.79 L435.88 204.1 L436.28 204.43 L436.68 204.62 L437.08 204.54 L437.48 204.2 L437.88 203.71 L438.28 202.78 L438.68 201.29 L439.08 199.66 L439.48 197.7 L439.88 195.5 L440.28 193.44 L440.68 191.82 L441.08 190.3 L441.48 188.99 L441.88 188.08 L442.28 187.57 L442.68 187.19 L443.08 187.04 L443.48 187.59 L443.88 188.8 L444.28 190.14 L444.68 191.79 L445.08 193.59 L445.48 195.12 L445.88 196.56 L446.28 197.87 L446.68 198.89 L447.08 199.58 L447.48 200.13 L447.88 200.58 L448.28 200.94 L448.68 201.26 L449.08 201.53 L449.48 201.74 L449.88 201.9 L450.28 202.04 L450.68 202.15 L451.08 202.22 L451.48 202.18 L451.88 201.98 L452.28 201.72 L452.68 201.49 L453.08 201.3 L453.48 201.11 L453.88 200.97 L454.28 200.93 L454.68 201.06 L455.08 201.33 L455.48 201.68 L455.88 202.09 L456.28 202.74 L456.68 203.56 L457.08 204.47 L457.48 205.54 L457.88 206.84 L458.28 208.19 L458.68 209.41 L459.08 210.69 L459.48 211.95 L459.88 212.81 L460.28 212.69 L460.68 210.38 L461.08 206.84 L461.48 202.73 L461.88 197.11 L462.28 191.4 L462.68 186.03 L463.08 180.8 L463.48 177.6 L463.88 175.93 L464.28 175.04 L464.68 175.43 L465.08 176.85 L465.48 178.82 L465.88 182.2 L466.28 185.98 L466.68 189.26 L467.08 192.48 L467.48 195.17 L467.88 197.05 L468.28 198.58 L468.68 200.24 L469.08 202.08 L469.48 204.09 L469.88 206.46 L470.28 209.46 L470.68 212.63 L471.08 215.67 L471.48 218.93 L471.88 221.12 L472.28 221.72 L472.68 222.09 L473.08 222.22 L473.48 221.16 L473.88 218.75 L474.28 215.97 L474.68 212.21 L475.08 207.82 L475.48 203.6 L475.88 199.1 L476.28 195.3 L476.68 192.89 L477.08 191.01 L477.48 189.87 L477.88 189.35 L478.28 189 L478.68 188.9 L479.08 189.37 L479.48 190.22 L479.88 190.99 L480.28 191.73 L480.68 192.49 L481.08 193.25 L481.48 194.03 L481.88 194.85 L482.28 195.63 L482.68 196.27 L483.08 196.74 L483.48 197.14 L483.88 197.5 L484.28 197.87 L484.68 198.32 L485.08 198.76 L485.48 199.04 L485.88 199.02 L486.28 198.71 L486.68 198.26 L487.08 197.64 L487.48 196.66 L487.88 195.69 L488.28 195.12 L488.68 195.26 L489.08 195.93 L489.48 196.89 L489.88 197.88 L490.28 198.85 L490.68 200.04 L491.08 201.14 L491.48 201.85 L491.88 202.19 L492.28 202.45 L492.68 202.65 L493.08 202.83 L493.48 202.98 L493.88 203.1 L494.28 203.25 L494.68 203.51 L495.08 203.95 L495.48 204.4 L495.88 204.63 L496.28 204.08 L496.68 202.42 L497.08 200.14 L497.48 197.67 L497.88 194.06 L498.28 189.78 L498.68 186.26 L499.08 183.58 L499.48 181.67 L499.88 181.61 L500.28 182.22 L500.68 183.18 L501.08 184.96 L501.48 187.98 L501.88 190.93 L502.28 193.47 L502.68 195.96 L503.08 198.43 L503.48 200.93 L503.88 203.46 L504.28 205.99 L504.68 208.46 L505.08 210.91 L505.48 213.42 L505.88 215.65 L506.28 217.35 L506.68 218.86 L507.08 219.43 L507.48 217.95 L507.88 215.04 L508.28 211.88 L508.68 207.82 L509.08 203.51 L509.48 199.86 L509.88 196.32 L510.28 193.82 L510.68 192.72 L511.08 191.96 L511.48 191.67 L511.88 192.05 L512.28 192.71 L512.68 192.92 L513.08 192.02 L513.48 190.56 L513.88 189.21 L514.28 187.68 L514.68 187.05 L515.08 187.87 L515.48 189.49 L515.88 191.98 L516.28 195.93 L516.68 200.15 L517.08 205.02 L517.48 209.88 L517.88 212.43 L518.28 213.64 L518.68 213.6 L519.08 210.99 L519.48 207.03 L519.88 202.56 L520.28 196.58 L520.68 191.31 L521.08 187.78 L521.48 184.89 L521.88 183.27 L522.28 182.48 L522.68 181.97 L523.08 181.86 L523.48 181.99 L523.88 182.25 L524.28 182.77 L524.68 184.27 L525.08 186.43 L525.48 189.3 L525.88 193.48 L526.28 197.99 L526.68 202.77 L527.08 207.77 L527.48 211.74 L527.88 215.09 L528.28 217.69 L528.68 218.83 L529.08 219.38 L529.48 218.88 L529.88 215.85 L530.28 211.91 L530.68 208.1 L531.08 203.8 L531.48 200 L531.88 196.78 L532.28 194 L532.68 192.32 L533.08 191.21 L533.48 190.49 L533.88 190.45 L534.28 191.1 L534.68 192.19 L535.08 193.78 L535.48 196.54 L535.88 199.67 L536.28 203 L536.68 206.64 L537.08 209.51 L537.48 211.49 L537.88 213.12 L538.28 214.7 L538.68 216.54 L539.08 218.65 L539.48 220.66 L539.88 222.38 L540.28 224.07 L540.68 224.98 L541.08 222.96 L541.48 217.16 L541.88 210.66 L542.28 203.75 L542.68 196.01 L543.08 188.43 L543.48 180.22 L543.88 177.06 L544.28 176.03 L544.44 175.93" stroke="#0000ff"/>
</g>
<path d="M35.5 225.3V220.8M35.5 155.3V159.8M115 225.3V220.8M115 155.3V159.8M194.5 225.3V220.8M194.5 155.3V159.8M274 225.3V220.8M274 155.3V159.8M353.5 225.3V220.8M353.5 155.3V159.8M433 225.3V220.8M433 155.3V159.8M512.5 225.3V220.8M512.5 155.3V159.8M35.5 225.3H40M544.3 225.3H539.8M35.5 196.13H40M544.3 196.13H539.8M35.5 166.97H40M544.3 166.97H539.8" stroke="#979797" stroke-width="1" fill="none"/>
<rect x="35.5" y="155.3" width="508.8" height="70" fill="none" stroke="#979797" stroke-width="1"/>
<g font-family="'Liberation Sans', Arial, Helvetica, sans-serif" font-size="9.7" fill="#1e1e1e" stroke="#1e1e1e" stroke-width="0.3"><text transform="translate(35.5 239.4) scale(1.072 1)" text-anchor="middle">0</text><text transform="translate(115 239.4) scale(1.072 1)" text-anchor="middle">1000</text><text transform="translate(194.5 239.4) scale(1.072 1)" text-anchor="middle">2000</text><text transform="translate(274 239.4) scale(1.072 1)" text-anchor="middle">3000</text><text transform="translate(353.5 239.4) scale(1.072 1)" text-anchor="middle">4000</text><text transform="translate(433 239.4) scale(1.072 1)" text-anchor="middle">5000</text><text transform="translate(512.5 239.4) scale(1.072 1)" text-anchor="middle">6000</text><text transform="translate(32.6 228.77) scale(1.072 1)" text-anchor="end">0</text><text transform="translate(32.6 199.61) scale(1.072 1)" text-anchor="end">0.5</text><text transform="translate(32.6 170.44) scale(1.072 1)" text-anchor="end">1</text></g>
<g font-family="'Liberation Sans', Arial, Helvetica, sans-serif" font-size="11.0" fill="#1e1e1e" stroke="#1e1e1e" stroke-width="0.3"><text transform="translate(289.9 250.2) scale(1.064 1)" text-anchor="middle">Time index (x)</text></g>
<g font-family="'Liberation Sans', Arial, Helvetica, sans-serif" font-size="10.8" fill="#1e1e1e" stroke="#1e1e1e" stroke-width="0.3"><text transform="translate(12.7 190.3) rotate(-90) scale(1.074 1)" text-anchor="middle">Amplitude</text></g>
<rect x="240.7" y="157.5" width="214.9" height="14.8" fill="#fff" stroke="#b0b0b0" stroke-width="1"/>
<path d="M242.8 164.6H258.5" stroke="#ff0000" stroke-width="1.3"/>
<path d="M331.8 164.6H347.2" stroke="#0000ff" stroke-width="1.3"/>
<g font-family="'Liberation Sans', Arial, Helvetica, sans-serif" font-size="10.4" fill="#000" stroke="#000" stroke-width="0.3"><text transform="translate(259.9 168.5) scale(1.048 1)">Original signal</text><text transform="translate(348.8 168.5) scale(1.048 1)">Decompressed signal</text></g>
<text x="276.5" y="271.8" text-anchor="middle" font-family="'Liberation Serif', 'Times New Roman', serif" font-size="10.0" fill="#0a0a0a" stroke="#0a0a0a" stroke-width="0.2">CR = 50%, BER = 0.0102</text>
<defs><clipPath id="c2"><rect x="41.5" y="296.4" width="497" height="74.4"/></clipPath></defs>
<path d="M119.16 296.4V370.8M196.81 296.4V370.8M274.47 296.4V370.8M352.12 296.4V370.8M429.78 296.4V370.8M507.44 296.4V370.8M41.5 339.8H538.5M41.5 308.8H538.5" stroke="#f2f2f2" stroke-width="1" fill="none"/>
<g clip-path="url(#c2)" fill="none" stroke-width="1.3" stroke-linejoin="round" stroke-linecap="round">
<path d="M41.51 365.63 L41.96 335.29 L42.41 313.79 L42.86 317.9 L43.31 324.61M47.99 363.39 L48.44 365.21 L48.89 365.96 L49.34 364.16 L49.79 359.83M51.88 325.64 L52.33 320.73 L52.78 318.66 L53.23 321.26 L53.68 326.42M59.66 362.93 L60.11 368.11 L60.56 370.62 L61.01 367.11 L61.46 359.82M62.99 326.48 L63.44 324.52 L63.89 323.93 L64.34 324.77 L64.79 326.61M69.66 343.58 L70.11 345.08 L70.56 345.78 L71.01 343.17 L71.46 338.16M78.91 356.65 L79.36 361.16 L79.81 363.62 L80.26 362.05 L80.71 359.56M84.47 338.39 L84.92 333.61 L85.37 331.24 L85.82 331.71 L86.27 332.56M89.29 320.82 L89.74 318.05 L90.19 316.74 L90.64 318.2 L91.09 321.35M97.99 361.38 L98.44 363.11 L98.89 363.83 L99.34 361.67 L99.79 357.01M104.1 332.69 L104.55 331.16 L105 330.41 L105.45 331.38 L105.9 333.68M107.25 347.54 L107.7 351.92 L108.15 353.99 L108.6 351.09 L109.05 345.46M109.47 341.03 L109.92 336.16 L110.37 333.75 L110.82 334 L111.27 334.59M117.62 350.63 L118.07 355.46 L118.52 357.96 L118.97 357.75 L119.42 357.18M124.29 326.4 L124.74 323.33 L125.19 322.06 L125.64 323.3 L126.09 326.27M132.99 355.73 L133.44 357.22 L133.89 357.93 L134.34 353.15 L134.79 343.56M135.95 322.69 L136.4 318.76 L136.85 316.97 L137.3 318.41 L137.75 321.69M144.29 356.84 L144.74 359.12 L145.19 360.39 L145.64 356.36 L146.09 349.32M148.91 329.19 L149.36 327.81 L149.81 327.23 L150.26 327.99 L150.71 329.91M153.54 350.4 L153.99 353.17 L154.44 354.55 L154.89 351.97 L155.34 346.97M156.69 336.6 L157.14 336.03 L157.59 335.8 L158.04 336.94 L158.49 339.25M158.73 340.4 L159.18 343.07 L159.63 344.69 L160.08 342.51 L160.53 338.92M163.73 348.46 L164.18 351.96 L164.63 353.85 L165.08 351.09 L165.53 345.63M168.54 326.53 L168.99 325.66 L169.44 325.3 L169.89 326.69 L170.34 329.69M173.73 361.83 L174.18 364.57 L174.63 366.06 L175.08 362.68 L175.53 356.76M180.03 323.41 L180.48 319.12 L180.93 317.14 L181.38 318.17 L181.83 320.67M185.4 357.48 L185.85 357.75 L186.3 357.84 L186.75 357.09 L187.2 355.22M190.03 328.53 L190.48 327.27 L190.93 326.76 L191.38 328.55 L191.83 331.48M196.51 347.38 L196.96 348.81 L197.41 349.55 L197.86 346.09 L198.31 341.06M198.36 340.73 L198.81 337.99 L199.26 336.66 L199.71 337.16 L200.16 338.26M204.66 361.68 L205.11 364.43 L205.56 366.08 L206.01 363.27 L206.46 357.49M208.73 328.76 L209.18 325.73 L209.63 324.33 L210.08 325 L210.53 326.43M212.8 323.01 L213.25 321.08 L213.7 320.22 L214.15 321.91 L214.6 325.7M215.95 350.52 L216.4 357.71 L216.85 362.5 L217.3 356.75 L217.75 347.3M217.8 346.48 L218.25 338.32 L218.7 333.77 L219.15 336.07 L219.6 340.27M220.4 348.07 L220.85 350.88 L221.3 352.34 L221.75 349.41 L222.2 344.49M222.06 345.81 L222.51 341.35 L222.96 338.34 L223.41 342.91 L223.86 350.81M224.47 363.37 L224.92 369.86 L225.37 373.07 L225.82 367.96 L226.27 357.91M227.06 335.76 L227.51 327.28 L227.96 323.15 L228.41 325.31 L228.86 329.4M228.91 329.85 L229.36 335.55 L229.81 339.2 L230.26 334.73 L230.71 326.94M231.51 315.65 L231.96 310.71 L232.41 308.2 L232.86 311.19 L233.31 317.03M235.77 359.91 L236.22 363.8 L236.67 365.49 L237.12 363.26 L237.57 358.75M243.17 329.63 L243.62 328.82 L244.07 328.36 L244.52 329.15 L244.97 331.03M247.06 349.54 L247.51 352.8 L247.96 354.5 L248.41 352.28 L248.86 348.21M257.8 336.98 L258.25 334.84 L258.7 333.73 L259.15 335.01 L259.6 337.72M265.03 351.37 L265.48 352.58 L265.93 353.29 L266.38 351.34 L266.83 347.51M283.54 352.8 L283.99 354.43 L284.44 355.21 L284.89 353.26 L285.34 348.95M287.8 330.6 L288.25 329.72 L288.7 329.33 L289.15 329.86 L289.6 331.1M294.1 353.12 L294.55 354.64 L295 355.42 L295.45 353.54 L295.9 349.43M298.54 325.96 L298.99 325.5 L299.44 325.33 L299.89 326.12 L300.34 328.03M303.36 355.95 L303.81 358.57 L304.26 359.95 L304.71 357.84 L305.16 354.47M307.06 349.8 L307.51 352.61 L307.96 354.45 L308.41 351.35 L308.86 345.6M310.03 331.2 L310.48 328.16 L310.93 326.85 L311.38 328.35 L311.83 331.16M314.84 344.33 L315.29 345.61 L315.74 346.18 L316.19 342.81 L316.64 336.25M317.62 325.04 L318.07 322.81 L318.52 321.84 L318.97 324.07 L319.42 328.74M324.1 359.89 L324.55 363.9 L325 365.94 L325.45 363.65 L325.9 358.91M331.14 320.22 L331.59 317.94 L332.04 316.89 L332.49 318.03 L332.94 320.58M335.03 340.41 L335.48 343 L335.93 344.19 L336.38 342.3 L336.83 338.73M337.43 335.05 L337.88 332.6 L338.33 331.51 L338.78 332.98 L339.23 336.15M341.14 361.47 L341.59 364.5 L342.04 365.82 L342.49 359.54 L342.94 354.88M342.8 355.44 L343.25 353.82 L343.7 353.18 L344.15 356.41 L344.6 361.85M344.66 362.35 L345.11 367.45 L345.56 370.37 L346.01 366.82 L346.46 359.73M348.36 322.62 L348.81 322.13 L349.26 321.96 L349.71 322.44 L350.16 323.32M354.29 349.89 L354.74 353.81 L355.19 355.73 L355.64 354.07 L356.09 350.65M361.32 330.35 L361.77 328.88 L362.22 328.2 L362.67 329.32 L363.12 331.82M372.99 345.1 L373.44 347.2 L373.89 348.48 L374.34 346.67 L374.79 343.4M388.73 333.37 L389.18 331.64 L389.63 330.86 L390.08 332.56 L390.53 335.83M394.84 352.77 L395.29 355.53 L395.74 357.25 L396.19 355.27 L396.64 351.07M397.99 336.96 L398.44 333.37 L398.89 331.73 L399.34 332.65 L399.79 334.52M401.32 339.18 L401.77 335.66 L402.22 333.34 L402.67 334.46 L403.12 336.86M404.47 345.35 L404.92 347.94 L405.37 349.31 L405.82 348.75 L406.27 347.58M407.62 344.11 L408.07 345.03 L408.52 345.88 L408.97 342.27 L409.42 335.88M410.21 324.86 L410.66 323.4 L411.11 323.01 L411.56 324.34 L412.01 327.4M415.03 354.42 L415.48 356.12 L415.93 357.09 L416.38 354.67 L416.83 350.74M418.73 342.35 L419.18 345.96 L419.63 349.3 L420.08 348.8 L420.53 347.6M424.29 332.63 L424.74 330.76 L425.19 329.03 L425.64 330.14 L426.09 332.65M427.06 345.63 L427.51 352.12 L427.96 355.73 L428.41 353.8 L428.86 350.11M429.1 348.54 L429.55 345.7 L430 344.14 L430.45 345.22 L430.9 347.24M431.88 352.09 L432.33 353.88 L432.78 354.95 L433.23 353.11 L433.68 349.71M435.03 344.42 L435.48 346.96 L435.93 349.31 L436.38 348.9 L436.83 347.89M438.54 325.2 L438.99 320.31 L439.44 318.89 L439.89 320.93 L440.34 325.15M440.95 333.92 L441.4 339.82 L441.85 343.37 L442.3 339.94 L442.75 336.22M455.77 359.17 L456.22 363.7 L456.67 366.21 L457.12 360.78 L457.57 350.45M459.29 311.91 L459.74 310.86 L460.19 310.68 L460.64 312.55 L461.09 316.08M466.69 362.77 L467.14 368.29 L467.59 370.96 L468.04 368.42 L468.49 364.15M472.8 330.22 L473.25 323.68 L473.7 320.4 L474.15 322.57 L474.6 327.09M474.66 327.65 L475.11 336.6 L475.56 342.85 L476.01 339.57 L476.46 334.09M476.51 333.6 L476.96 328.67 L477.41 325.89 L477.86 327.47 L478.31 330.86M479.29 344.16 L479.74 348.27 L480.19 350.28 L480.64 345.05 L481.09 337.17M480.95 339.08 L481.4 333.61 L481.85 330.62 L482.3 334.76 L482.75 341.48M482.99 345.87 L483.44 350.43 L483.89 351.23 L484.34 345.82 L484.79 337.31M484.84 336.63 L485.29 330.35 L485.74 327 L486.19 330.14 L486.64 336.3M487.25 347.21 L487.7 352.86 L488.15 355.76 L488.6 352.62 L489.05 347.92M491.69 350.41 L492.14 353.32 L492.59 355.24 L493.04 349.8 L493.49 340.07M494.1 327.11 L494.55 322.09 L495 319.89 L495.45 320.95 L495.9 323.19M501.69 362.93 L502.14 369.12 L502.59 372.68 L503.04 366.45 L503.49 354.76M504.84 335.01 L505.29 334.07 L505.74 333.7 L506.19 336.61 L506.64 339.76M508.54 330.19 L508.99 327.94 L509.44 326.85 L509.89 327.94 L510.34 330.49M511.69 353.97 L512.14 357.76 L512.59 359.04 L513.04 356.01 L513.49 349.94M517.25 323.64 L517.7 323.37 L518.15 323.27 L518.6 323.82 L519.05 325.25M522.25 363.11 L522.7 369.04 L523.15 372.34 L523.6 368.74 L524.05 361.54M527.06 334.65 L527.51 331.35 L527.96 329.62 L528.41 330.53 L528.86 332.51M533.91 367.57 L534.36 370.52 L534.81 372.57 L535.26 366.71 L535.71 355.99" stroke="#ff0000" stroke-width="1.3"/>
<path d="M41.85 342.07 L42.25 319.8 L42.65 318.23 L43.05 323.02 L43.45 327.41 L43.85 330.87 L44.25 334.46 L44.65 338.34 L45.05 342.23 L45.45 345.85 L45.85 349.11 L46.25 352.31 L46.65 355.3 L47.05 357.87 L47.45 359.86 L47.85 361.59 L48.25 363.13 L48.65 364.11 L49.05 364.05 L49.45 361.69 L49.85 357.77 L50.25 353.33 L50.65 346.71 L51.05 338.76 L51.45 332.24 L51.85 327.53 L52.25 323.33 L52.65 320.95 L53.05 321.65 L53.45 325.01 L53.85 328.82 L54.25 332.27 L54.65 335.58 L55.05 337.53 L55.45 338.92 L55.85 340.03 L56.25 341.04 L56.65 341.9 L57.05 342.59 L57.45 343.49 L57.85 345.19 L58.25 348.18 L58.65 351.59 L59.05 355.75 L59.45 359.73 L59.85 363.61 L60.25 366.99 L60.65 367.83 L61.05 364.21 L61.45 358.26 L61.85 349.77 L62.25 340.61 L62.65 333.16 L63.05 327.84 L63.45 326.14 L63.85 325.41 L64.25 325.83 L64.65 326.99 L65.05 328.37 L65.45 330.25 L65.85 332.44 L66.25 334.64 L66.65 336.76 L67.05 337.86 L67.45 338.44 L67.85 339.06 L68.25 339.86 L68.65 340.73 L69.05 341.62 L69.45 342.54 L69.85 343.66 L70.25 344.58 L70.65 344.73 L71.05 342.17 L71.45 338.27 L71.85 335.59 L72.25 334.45 L72.65 333.53 L73.05 332.95 L73.45 332.83 L73.85 333.17 L74.25 333.83 L74.65 334.73 L75.05 337.15 L75.45 340.49 L75.85 342.39 L76.25 343.22 L76.65 343.9 L77.05 344.49 L77.45 345.06 L77.85 346.05 L78.25 349.28 L78.65 353.72 L79.05 357.37 L79.45 360.92 L79.85 362.43 L80.25 361.3 L80.65 359.49 L81.05 358.61 L81.45 358.34 L81.85 358.14 L82.25 357.78 L82.65 356.8 L83.05 355.06 L83.45 352.7 L83.85 348.26 L84.25 341.72 L84.65 337.16 L85.05 333.48 L85.45 332.27 L85.85 332.43 L86.25 332.68 L86.65 332.81 L87.05 332.53 L87.45 331.77 L87.85 330.73 L88.25 328.49 L88.65 325.43 L89.05 322.74 L89.45 320.56 L89.85 318.65 L90.25 318.03 L90.65 319.41 L91.05 321.94 L91.45 324.64 L91.85 328.11 L92.25 331.65 L92.65 334.4 L93.05 336.74 L93.45 338.89 L93.85 340.99 L94.25 342.93 L94.65 344.85 L95.05 347.01 L95.45 349.85 L95.85 352.73 L96.25 354.64 L96.65 355.84 L97.05 356.93 L97.45 358.35 L97.85 359.94 L98.25 361.36 L98.65 362.27 L99.05 362.15 L99.45 359.51 L99.85 355.56 L100.25 351.03 L100.65 344.87 L101.05 340.49 L101.45 339.3 L101.85 338.63 L102.25 338.07 L102.65 337.31 L103.05 336.2 L103.45 334.97 L103.85 333.83 L104.25 332.73 L104.65 331.71 L105.05 331.35 L105.45 332.26 L105.85 334.15 L106.25 336.59 L106.65 340.85 L107.05 344.97 L107.45 348.49 L107.85 351.43 L108.25 352.1 L108.65 349.26 L109.05 344.93 L109.45 341.3 L109.85 337.4 L110.25 334.84 L110.65 334.72 L111.05 334.97 L111.45 335.36 L111.85 335.94 L112.25 337.24 L112.65 338.29 L113.05 338.3 L113.45 338.01 L113.85 337.63 L114.25 337.28 L114.65 336.85 L115.05 336.54 L115.45 336.94 L115.85 338.7 L116.25 340.92 L116.65 343.24 L117.05 346 L117.45 348.88 L117.85 352.62 L118.25 356.02 L118.65 356.87 L119.05 356.63 L119.45 356.14 L119.85 355.44 L120.25 354.56 L120.65 353.54 L121.05 352.43 L121.45 350.94 L121.85 348.69 L122.25 345.97 L122.65 342.74 L123.05 338.41 L123.45 334.06 L123.85 330.79 L124.25 327.73 L124.65 325.13 L125.05 323.67 L125.45 323.96 L125.85 325.78 L126.25 328.42 L126.65 331.6 L127.05 336.93 L127.45 341.42 L127.85 342.57 L128.25 342.99 L128.65 342.63 L129.05 341.68 L129.45 341.15 L129.85 341.92 L130.25 343.47 L130.65 345.16 L131.05 347.31 L131.45 349.45 L131.85 351.14 L132.25 352.6 L132.65 353.81 L133.05 354.74 L133.45 355.56 L133.85 355.96 L134.25 353.03 L134.65 345.72 L135.05 338.47 L135.45 331.3 L135.85 325.21 L136.25 321.71 L136.65 319.3 L137.05 319.19 L137.45 320.99 L137.85 323.7 L138.25 327.37 L138.65 332.79 L139.05 337.28 L139.45 339.93 L139.85 342.1 L140.25 343.83 L140.65 345.12 L141.05 346.04 L141.45 346.78 L141.85 347.63 L142.25 348.65 L142.65 349.76 L143.05 351.01 L143.45 352.52 L143.85 354.31 L144.25 355.94 L144.65 357.49 L145.05 358.64 L145.45 357.32 L145.85 352.05 L146.25 346.82 L146.65 341.39 L147.05 337.35 L147.45 335.14 L147.85 333.49 L148.25 332.15 L148.65 330.83 L149.05 329.52 L149.45 328.53 L149.85 328.19 L150.25 328.88 L150.65 330.45 L151.05 332.49 L151.45 335.85 L151.85 340.47 L152.25 343.43 L152.65 345.52 L153.05 347.31 L153.45 349.13 L153.85 351.31 L154.25 352.94 L154.65 352.64 L155.05 349.5 L155.45 345.66 L155.85 342.53 L156.25 339.36 L156.65 337.47 L157.05 336.87 L157.45 336.55 L157.85 336.86 L158.25 338.3 L158.65 340.03 L159.05 341.89 L159.45 343.67 L159.85 343.41 L160.25 340.9 L160.65 338.59 L161.05 337.9 L161.45 337.51 L161.85 337.6 L162.25 338.78 L162.65 340.56 L163.05 342.8 L163.45 345.9 L163.85 348.56 L164.25 351.11 L164.65 352.25 L165.05 350.09 L165.45 345.87 L165.85 342.05 L166.25 338.41 L166.65 335.05 L167.05 332.62 L167.45 330.6 L167.85 329 L168.25 327.96 L168.65 327.16 L169.05 326.56 L169.45 326.33 L169.85 327.44 L170.25 329.87 L170.65 332.52 L171.05 335.62 L171.45 339.18 L171.85 342.91 L172.25 347.01 L172.65 351.08 L173.05 354.83 L173.45 358.48 L173.85 361.32 L174.25 363.34 L174.65 364.29 L175.05 361.67 L175.45 357.03 L175.85 352.69 L176.25 348.25 L176.65 346.1 L177.05 345.15 L177.45 344.32 L177.85 343.1 L178.25 341.61 L178.65 339.61 L179.05 335.9 L179.45 330.49 L179.85 326.02 L180.25 322.43 L180.65 319.62 L181.05 319.01 L181.45 320.22 L181.85 322.39 L182.25 325.49 L182.65 331.02 L183.05 336.84 L183.45 342.97 L183.85 348.2 L184.25 351.81 L184.65 354.7 L185.05 356.03 L185.45 356.47 L185.85 356.77 L186.25 356.89 L186.65 356.41 L187.05 354.98 L187.45 353.01 L187.85 350.36 L188.25 346.11 L188.65 341.66 L189.05 337.46 L189.45 333.19 L189.85 330.26 L190.25 328.92 L190.65 328.02 L191.05 327.96 L191.45 329.72 L191.85 331.89 L192.25 333.69 L192.65 335.26 L193.05 336.08 L193.45 336.55 L193.85 337.04 L194.25 337.94 L194.65 339.63 L195.05 341.52 L195.45 343.12 L195.85 344.67 L196.25 346.06 L196.65 347.16 L197.05 348.16 L197.45 348.52 L197.85 345.67 L198.25 341.67 L198.65 339.4 L199.05 337.73 L199.45 337.53 L199.85 338.14 L200.25 339.03 L200.65 340.06 L201.05 341.45 L201.45 342.9 L201.85 344.14 L202.25 345.39 L202.65 346.98 L203.05 349.41 L203.45 352.33 L203.85 355.13 L204.25 358.03 L204.65 360.66 L205.05 362.71 L205.45 364.21 L205.85 363.1 L206.25 358.98 L206.65 354.26 L207.05 349.86 L207.45 345.07 L207.85 340.24 L208.25 334.89 L208.65 330.43 L209.05 327.61 L209.45 325.66 L209.85 325.52 L210.25 326.17 L210.65 327.06 L211.05 328.29 L211.45 329.74 L211.85 329.57 L212.25 326.67 L212.65 324.27 L213.05 322.89 L213.45 321.91 L213.85 321.91 L214.25 324.06 L214.65 327.47 L215.05 333.56 L215.45 340.63 L215.85 347.49 L216.25 353.56 L216.65 358.58 L217.05 358.55 L217.45 352.16 L217.85 345.69 L218.25 339.49 L218.65 335.66 L219.05 336.8 L219.45 339.82 L219.85 342.9 L220.25 346.46 L220.65 349.05 L221.05 350.9 L221.45 350.99 L221.85 348.01 L222.25 344.65 L222.65 341.49 L223.05 340.42 L223.45 344.82 L223.85 350.92 L224.25 358.58 L224.65 364.09 L225.05 368.44 L225.45 369.67 L225.85 364.77 L226.25 356.82 L226.65 346.98 L227.05 337.19 L227.45 330.17 L227.85 325.68 L228.25 326.1 L228.65 328.47 L229.05 331.33 L229.45 335.45 L229.85 337.41 L230.25 333.69 L230.65 327.51 L231.05 322.21 L231.45 317.35 L231.85 313.58 L232.25 310.88 L232.65 311.49 L233.05 315.54 L233.45 320.39 L233.85 326.48 L234.25 332.82 L234.65 339.24 L235.05 345.7 L235.45 353.04 L235.85 359.02 L236.25 361.95 L236.65 363.37 L237.05 361.95 L237.45 358.69 L237.85 355.42 L238.25 352.36 L238.65 349.01 L239.05 344.96 L239.45 340.73 L239.85 337.85 L240.25 335.59 L240.65 333.99 L241.05 333.08 L241.45 332.46 L241.85 331.89 L242.25 331.27 L242.65 330.68 L243.05 330.15 L243.45 329.64 L243.85 329.2 L244.25 329.25 L244.65 330.36 L245.05 332.16 L245.45 334.69 L245.85 338.67 L246.25 342.36 L246.65 345.76 L247.05 348.65 L247.45 351.29 L247.85 353.07 L248.25 352.35 L248.65 349.53 L249.05 346.81 L249.45 344.87 L249.85 343.19 L250.25 342.63 L250.65 342.68 L251.05 342.78 L251.45 342.92 L251.85 343.1 L252.25 343.46 L252.65 343.81 L253.05 343.91 L253.45 343.45 L253.85 342.63 L254.25 341.81 L254.65 341.25 L255.05 340.72 L255.45 340.33 L255.85 340.33 L256.25 341.83 L256.65 343 L257.05 341.78 L257.45 339.2 L257.85 337.16 L258.25 335.59 L258.65 334.68 L259.05 335.39 L259.45 337.37 L259.85 340.24 L260.25 344.25 L260.65 345.61 L261.05 346.39 L261.45 346.7 L261.85 346.7 L262.25 346.7 L262.65 346.71 L263.05 347.2 L263.45 348.05 L263.85 348.82 L264.25 349.54 L264.65 350.27 L265.05 350.96 L265.45 351.73 L265.85 352.24 L266.25 351.24 L266.65 348.29 L267.05 344.92 L267.45 340.53 L267.85 336.9 L268.25 334.02 L268.65 331.6 L269.05 330.09 L269.45 329.3 L269.85 328.68 L270.25 328.28 L270.65 328.21 L271.05 328.76 L271.45 329.79 L271.85 330.96 L272.25 332.41 L272.65 334.2 L273.05 335.97 L273.45 337.77 L273.85 339.55 L274.25 341.12 L274.65 342.68 L275.05 343.83 L275.45 343.44 L275.85 341.86 L276.25 340.96 L276.65 340.51 L277.05 340.25 L277.45 340.52 L277.85 342 L278.25 343.67 L278.65 344.82 L279.05 345.86 L279.45 346.72 L279.85 347.4 L280.25 347.99 L280.65 348.47 L281.05 348.8 L281.45 349.05 L281.85 349.31 L282.25 349.74 L282.65 350.39 L283.05 351.15 L283.45 352.05 L283.85 353.18 L284.25 353.99 L284.65 353.69 L285.05 351.08 L285.45 347.37 L285.85 343.95 L286.25 340.33 L286.65 336.9 L287.05 334.5 L287.45 332.57 L287.85 331.2 L288.25 330.45 L288.65 330.04 L289.05 330.34 L289.45 331.23 L289.85 332.38 L290.25 333.63 L290.65 335.25 L291.05 337.17 L291.45 339.63 L291.85 342.07 L292.25 344.17 L292.65 346.12 L293.05 348.01 L293.45 349.92 L293.85 351.56 L294.25 352.75 L294.65 353.74 L295.05 354.08 L295.45 352.36 L295.85 349.02 L296.25 345.34 L296.65 340.32 L297.05 335.32 L297.45 331.96 L297.85 329.16 L298.25 327.42 L298.65 326.84 L299.05 326.47 L299.45 326.33 L299.85 326.98 L300.25 328.54 L300.65 330.63 L301.05 334.58 L301.45 339.02 L301.85 342.53 L302.25 345.8 L302.65 349.05 L303.05 352.59 L303.45 355.6 L303.85 357.65 L304.25 358.74 L304.65 357.38 L305.05 354.81 L305.45 352.87 L305.85 351.13 L306.25 350.15 L306.65 349.57 L307.05 349.8 L307.45 351.56 L307.85 353.08 L308.25 351.9 L308.65 347.56 L309.05 342.97 L309.45 337.59 L309.85 333.48 L310.25 330.69 L310.65 328.67 L311.05 328.3 L311.45 329.79 L311.85 331.89 L312.25 334.43 L312.65 336.95 L313.05 338.09 L313.45 338.75 L313.85 339.78 L314.25 341.58 L314.65 343.05 L315.05 343.99 L315.45 344.67 L315.85 344.64 L316.25 341.16 L316.65 335.96 L317.05 331.71 L317.45 327.6 L317.85 325.13 L318.25 323.87 L318.65 323.76 L319.05 326.27 L319.45 330.11 L319.85 336.16 L320.25 341.85 L320.65 345.73 L321.05 348.34 L321.45 349.4 L321.85 350.07 L322.25 350.8 L322.65 351.5 L323.05 352.58 L323.45 354.88 L323.85 357.59 L324.25 360.41 L324.65 363.23 L325.05 364.26 L325.45 362.22 L325.85 358.42 L326.25 354.71 L326.65 350.76 L327.05 346.59 L327.45 342.43 L327.85 338.05 L328.25 334.33 L328.65 331.81 L329.05 329.82 L329.45 328.05 L329.85 326.27 L330.25 324.57 L330.65 322.97 L331.05 321.27 L331.45 319.42 L331.85 318.17 L332.25 318.27 L332.65 319.84 L333.05 322.09 L333.45 324.66 L333.85 328.05 L334.25 331.8 L334.65 336.31 L335.05 339.59 L335.45 341.76 L335.85 342.96 L336.25 342.13 L336.65 339.67 L337.05 337.38 L337.45 335.52 L337.85 333.79 L338.25 332.85 L338.65 333.57 L339.05 335.97 L339.45 339.17 L339.85 344.23 L340.25 349.35 L340.65 354.5 L341.05 359.3 L341.45 362.31 L341.85 364.03 L342.25 362.75 L342.65 356.91 L343.05 355.1 L343.45 354.27 L343.85 354.47 L344.25 357.84 L344.65 361.69 L345.05 365.27 L345.45 367.85 L345.85 366.45 L346.25 361.23 L346.65 355.01 L347.05 346.6 L347.45 338.49 L347.85 330.52 L348.25 324.89 L348.65 323.68 L349.05 323.08 L349.45 323.05 L349.85 323.41 L350.25 323.87 L350.65 324.15 L351.05 324.26 L351.45 324.37 L351.85 324.76 L352.25 326.26 L352.65 328.61 L353.05 333.53 L353.45 338.94 L353.85 344.2 L354.25 348.5 L354.65 351.75 L355.05 353.93 L355.45 353.58 L355.85 351.43 L356.25 348.82 L356.65 346.17 L357.05 343.23 L357.45 340.95 L357.85 339.41 L358.25 338.17 L358.65 337.11 L359.05 336.23 L359.45 335.44 L359.85 334.58 L360.25 333.58 L360.65 332.55 L361.05 331.58 L361.45 330.46 L361.85 329.49 L362.25 329.12 L362.65 330.09 L363.05 332.13 L363.45 334.48 L363.85 337.77 L364.25 341.44 L364.65 344.62 L365.05 347.79 L365.45 350.09 L365.85 351.03 L366.25 351.63 L366.65 352.07 L367.05 352.45 L367.45 352.84 L367.85 353.11 L368.25 353.11 L368.65 351.67 L369.05 349.51 L369.45 347.79 L369.85 346.16 L370.25 344.72 L370.65 343.73 L371.05 342.93 L371.45 342.32 L371.85 342.07 L372.25 342.64 L372.65 343.88 L373.05 345.12 L373.45 346.66 L373.85 347.62 L374.25 346.53 L374.65 343.98 L375.05 341.51 L375.45 338.8 L375.85 337.11 L376.25 336.07 L376.65 335.59 L377.05 335.91 L377.45 336.7 L377.85 337.64 L378.25 339.24 L378.65 340.8 L379.05 341.12 L379.45 340.85 L379.85 340.41 L380.25 339.75 L380.65 338.61 L381.05 337.56 L381.45 336.83 L381.85 336.2 L382.25 335.97 L382.65 336.72 L383.05 338.22 L383.45 339.77 L383.85 341.89 L384.25 343.65 L384.65 343.62 L385.05 342.09 L385.45 341.05 L385.85 340.67 L386.25 340.39 L386.65 340.09 L387.05 339.84 L387.45 339.48 L387.85 338.39 L388.25 335.97 L388.65 334.21 L389.05 332.88 L389.45 332 L389.85 332.31 L390.25 334.51 L390.65 337.17 L391.05 340.62 L391.45 343.76 L391.85 345.83 L392.25 347.33 L392.65 347.87 L393.05 348.1 L393.45 348.32 L393.85 348.81 L394.25 350.04 L394.65 351.64 L395.05 353.34 L395.45 355.33 L395.85 355.84 L396.25 353.72 L396.65 350.27 L397.05 346.71 L397.45 342.35 L397.85 338.73 L398.25 335.61 L398.65 333.28 L399.05 332.92 L399.45 333.83 L399.85 335.14 L400.25 336.51 L400.65 338.24 L401.05 339.27 L401.45 338.13 L401.85 335.46 L402.25 334.12 L402.65 335.06 L403.05 336.96 L403.45 338.96 L403.85 341.36 L404.25 343.84 L404.65 345.92 L405.05 347.88 L405.45 348.54 L405.85 348.05 L406.25 347.2 L406.65 346.28 L407.05 344.99 L407.45 344.02 L407.85 344.1 L408.25 344.67 L408.65 344.5 L409.05 340.54 L409.45 335.51 L409.85 330.29 L410.25 325.92 L410.65 324.87 L411.05 324.49 L411.45 325.21 L411.85 327.42 L412.25 330.26 L412.65 334.85 L413.05 340.13 L413.45 343.92 L413.85 347.07 L414.25 349.64 L414.65 351.85 L415.05 353.64 L415.45 355.01 L415.85 355.93 L416.25 354.79 L416.65 351.75 L417.05 349.29 L417.45 347.09 L417.85 345.25 L418.25 343.88 L418.65 343.01 L419.05 344.77 L419.45 348.02 L419.85 348.42 L420.25 347.61 L420.65 346.3 L421.05 343.18 L421.45 339.52 L421.85 336.17 L422.25 333.33 L422.65 332.42 L423.05 331.99 L423.45 331.93 L423.85 332.43 L424.25 332.81 L424.65 331.74 L425.05 330.19 L425.45 330.45 L425.85 332.23 L426.25 334.84 L426.65 339.81 L427.05 345.02 L427.45 350.14 L427.85 353.87 L428.25 353.43 L428.65 351.07 L429.05 348.66 L429.45 346.62 L429.85 345.02 L430.25 345.18 L430.65 346.57 L431.05 348.1 L431.45 349.86 L431.85 351.61 L432.25 352.97 L432.65 354.02 L433.05 353.47 L433.45 351.1 L433.85 348.71 L434.25 346.97 L434.65 345.42 L435.05 344.89 L435.45 346.64 L435.85 348.49 L436.25 348.27 L436.65 347.33 L437.05 345.66 L437.45 341.82 L437.85 336.93 L438.25 331.31 L438.65 324.89 L439.05 321.83 L439.45 320.78 L439.85 322.23 L440.25 325.34 L440.65 329.53 L441.05 334.94 L441.45 339.47 L441.85 342.07 L442.25 339.86 L442.65 336.8 L443.05 336.93 L443.45 338.39 L443.85 339.76 L444.25 341.05 L444.65 342.12 L445.05 342.86 L445.45 343.47 L445.85 344.13 L446.25 344.99 L446.65 345.67 L447.05 345.63 L447.45 344.68 L447.85 343.36 L448.25 341.84 L448.65 340.01 L449.05 339 L449.45 338.44 L449.85 338.77 L450.25 340.67 L450.65 342.4 L451.05 343.71 L451.45 344.79 L451.85 345.6 L452.25 346.28 L452.65 346.76 L453.05 347.04 L453.45 347.25 L453.85 347.59 L454.25 348.36 L454.65 349.72 L455.05 351.88 L455.45 355.43 L455.85 358.63 L456.25 361.73 L456.65 363.37 L457.05 359.61 L457.45 351.42 L457.85 342.65 L458.25 332.14 L458.65 323.91 L459.05 316.98 L459.45 313.35 L459.85 312.65 L460.25 312.49 L460.65 314.07 L461.05 316.7 L461.45 319.57 L461.85 322.98 L462.25 326.45 L462.65 329.75 L463.05 329.84 L463.45 329.28 L463.85 329.14 L464.25 329.45 L464.65 330.09 L465.05 333.34 L465.45 338.56 L465.85 345.59 L466.25 353.02 L466.65 360.62 L467.05 365.49 L467.45 368.63 L467.85 368.18 L468.25 365.3 L468.65 362.47 L469.05 359.39 L469.45 357.82 L469.85 358.57 L470.25 359.58 L470.65 359.67 L471.05 359.32 L471.45 354.84 L471.85 348.56 L472.25 341.32 L472.65 333.73 L473.05 328.19 L473.45 323.67 L473.85 322.84 L474.25 325.05 L474.65 328.39 L475.05 334.86 L475.45 340.78 L475.85 339.84 L476.25 335.85 L476.65 332.32 L477.05 328.76 L477.45 327.28 L477.85 328.65 L478.25 331.31 L478.65 335.32 L479.05 340.83 L479.45 344.59 L479.85 347.53 L480.25 348.43 L480.65 343.95 L481.05 338.03 L481.45 334.29 L481.85 332.26 L482.25 335.13 L482.65 339.99 L483.05 345.97 L483.45 348.87 L483.85 349.48 L484.25 346.3 L484.65 339.61 L485.05 334.69 L485.45 330.38 L485.85 329.31 L486.25 332.49 L486.65 337.28 L487.05 343.38 L487.45 349.01 L487.85 352.87 L488.25 353.94 L488.65 351.08 L489.05 347.75 L489.45 345.61 L489.85 344.08 L490.25 344.12 L490.65 345 L491.05 346.22 L491.45 348.29 L491.85 350.41 L492.25 352.32 L492.65 353.08 L493.05 348.18 L493.45 340.43 L493.85 332.91 L494.25 326.4 L494.65 323.01 L495.05 321.72 L495.45 322.55 L495.85 324.16 L496.25 326.63 L496.65 330.23 L497.05 333.41 L497.45 336.38 L497.85 338.74 L498.25 340.39 L498.65 341.87 L499.05 343.41 L499.45 344.98 L499.85 346.86 L500.25 349.03 L500.65 351.61 L501.05 355.05 L501.45 359.34 L501.85 363.51 L502.25 368.05 L502.65 369.74 L503.05 364.26 L503.45 355.15 L503.85 348.17 L504.25 342.01 L504.65 337.43 L505.05 335.77 L505.45 334.89 L505.85 334.85 L506.25 337.34 L506.65 339.29 L507.05 338.89 L507.45 337.87 L507.85 336.01 L508.25 332.66 L508.65 330.4 L509.05 328.86 L509.45 328.19 L509.85 329.09 L510.25 331.17 L510.65 334.59 L511.05 340.28 L511.45 347.78 L511.85 354.11 L512.25 356.19 L512.65 356.83 L513.05 354.17 L513.45 349.48 L513.85 345.25 L514.25 341.09 L514.65 337.06 L515.05 333.51 L515.45 330.11 L515.85 327.57 L516.25 326.11 L516.65 325.02 L517.05 324.47 L517.45 324.27 L517.85 324.14 L518.25 324.15 L518.65 324.89 L519.05 326.34 L519.45 328.58 L519.85 332.96 L520.25 337.61 L520.65 342.72 L521.05 347.83 L521.45 352.71 L521.85 357.48 L522.25 361.82 L522.65 366.49 L523.05 369.69 L523.45 368.33 L523.85 363.35 L524.25 357.9 L524.65 352.61 L525.05 347.73 L525.45 345.44 L525.85 344.11 L526.25 342.11 L526.65 338.68 L527.05 335.5 L527.45 332.86 L527.85 331.07 L528.25 331.33 L528.65 332.72 L529.05 334.6 L529.45 337.72 L529.85 341.52 L530.25 346.63 L530.65 351.53 L531.05 354.22 L531.45 356.18 L531.85 357.81 L532.25 359.2 L532.65 360.42 L533.05 361.89 L533.45 363.9 L533.85 366.03 L534.25 367.91 L534.65 369.63 L535.05 368.15 L535.45 360.37 L535.85 351.91 L536.25 343.19 L536.65 334.07 L537.05 324.24 L537.45 316.48 L537.85 312.18 L537.96 311.52" stroke="#0000ff"/>
</g>
<path d="M41.5 370.8V366.3M41.5 296.4V300.9M119.16 370.8V366.3M119.16 296.4V300.9M196.81 370.8V366.3M196.81 296.4V300.9M274.47 370.8V366.3M274.47 296.4V300.9M352.12 370.8V366.3M352.12 296.4V300.9M429.78 370.8V366.3M429.78 296.4V300.9M507.44 370.8V366.3M507.44 296.4V300.9M41.5 370.8H46M538.5 370.8H534M41.5 339.8H46M538.5 339.8H534M41.5 308.8H46M538.5 308.8H534" stroke="#979797" stroke-width="1" fill="none"/>
<rect x="41.5" y="296.4" width="497" height="74.4" fill="none" stroke="#979797" stroke-width="1"/>
<g font-family="'Liberation Sans', Arial, Helvetica, sans-serif" font-size="9.7" fill="#1e1e1e" stroke="#1e1e1e" stroke-width="0.3"><text transform="translate(41.5 384.8) scale(1.082 1)" text-anchor="middle">0</text><text transform="translate(119.16 384.8) scale(1.082 1)" text-anchor="middle">1000</text><text transform="translate(196.81 384.8) scale(1.082 1)" text-anchor="middle">2000</text><text transform="translate(274.47 384.8) scale(1.082 1)" text-anchor="middle">3000</text><text transform="translate(352.12 384.8) scale(1.082 1)" text-anchor="middle">4000</text><text transform="translate(429.78 384.8) scale(1.082 1)" text-anchor="middle">5000</text><text transform="translate(507.44 384.8) scale(1.082 1)" text-anchor="middle">6000</text><text transform="translate(38.6 374.27) scale(1.082 1)" text-anchor="end">0</text><text transform="translate(38.6 343.27) scale(1.082 1)" text-anchor="end">0.5</text><text transform="translate(38.6 312.27) scale(1.082 1)" text-anchor="end">1</text></g>
<g font-family="'Liberation Sans', Arial, Helvetica, sans-serif" font-size="11.0" fill="#1e1e1e" stroke="#1e1e1e" stroke-width="0.3"><text transform="translate(290 398.9) scale(1.036 1)" text-anchor="middle">Time index (x)</text></g>
<g font-family="'Liberation Sans', Arial, Helvetica, sans-serif" font-size="10.8" fill="#1e1e1e" stroke="#1e1e1e" stroke-width="0.3"><text transform="translate(19.4 333.6) rotate(-90) scale(1.046 1)" text-anchor="middle">Amplitude</text></g>
<rect x="242.3" y="297.6" width="210.3" height="14.6" fill="#fff" stroke="#b0b0b0" stroke-width="1"/>
<path d="M244 304.8H259.3" stroke="#ff0000" stroke-width="1.3"/>
<path d="M331.6 304.8H347.3" stroke="#0000ff" stroke-width="1.3"/>
<g font-family="'Liberation Sans', Arial, Helvetica, sans-serif" font-size="10.4" fill="#000" stroke="#000" stroke-width="0.3"><text transform="translate(260.7 308.7) scale(1.019 1)">Original signal</text><text transform="translate(348.9 308.7) scale(1.019 1)">Decompressed signal</text></g>
<text x="276.5" y="427" text-anchor="middle" font-family="'Liberation Serif', 'Times New Roman', serif" font-size="10.0" fill="#0a0a0a" stroke="#0a0a0a" stroke-width="0.2">CR = 75%, BER = 0.0012</text>
</svg>
</body></html>
